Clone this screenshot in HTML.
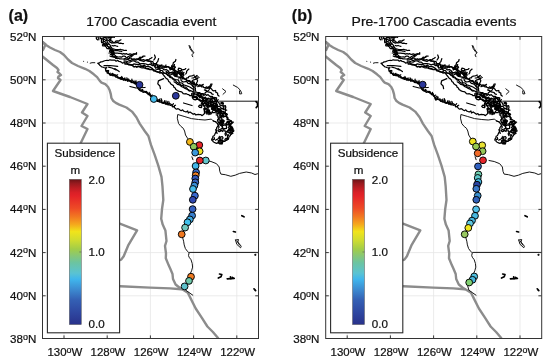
<!DOCTYPE html>
<html><head><meta charset="utf-8"><style>
html,body{margin:0;padding:0;background:#fff;width:550px;height:364px;overflow:hidden}
svg{display:block}
text{font-family:"Liberation Sans",Arial,sans-serif;fill:#111;stroke:#111;stroke-width:0.22}
.t11{font-size:11px}
.t13{font-size:13px}
.lbl{font-size:16px;font-weight:bold}
.grid{stroke:#e6e6e6;stroke-width:0.8}
.plate{fill:none;stroke:#8c8c8c;stroke-width:2.4;stroke-linejoin:round;stroke-linecap:round}
.coast{fill:none;stroke:#000;stroke-width:1.25;stroke-linejoin:round;stroke-linecap:round}
.coast2{fill:none;stroke:#151515;stroke-width:1.0;stroke-linejoin:round;stroke-linecap:round}
.frame{fill:none;stroke:#333;stroke-width:1.0}
.tick{stroke:#3a3a3a;stroke-width:1}
.dot{stroke:#000;stroke-width:0.95}
.legend{fill:#fff;stroke:#2a2a2a;stroke-width:1.1}
</style></head><body>
<svg width="550" height="364" viewBox="0 0 550 364">
<defs><clipPath id="mapclip"><rect x="42.5" y="36.5" width="216" height="302"/></clipPath><linearGradient id="cb" x1="0" y1="0" x2="0" y2="1"><stop offset="0" stop-color="#6a1014"/><stop offset="0.012" stop-color="#7e161a"/><stop offset="0.03" stop-color="#9a1a1f"/><stop offset="0.06" stop-color="#bc1d23"/><stop offset="0.09" stop-color="#d82027"/><stop offset="0.115" stop-color="#e42328"/><stop offset="0.2" stop-color="#ee4b26"/><stop offset="0.26" stop-color="#f27a21"/><stop offset="0.31" stop-color="#f5a81d"/><stop offset="0.36" stop-color="#f1e41a"/><stop offset="0.42" stop-color="#cfdc30"/><stop offset="0.48" stop-color="#a2cd48"/><stop offset="0.53" stop-color="#85c779"/><stop offset="0.573" stop-color="#6cc4a0"/><stop offset="0.646" stop-color="#5ac3d2"/><stop offset="0.687" stop-color="#40b6ec"/><stop offset="0.76" stop-color="#3c8ad0"/><stop offset="0.83" stop-color="#3460b4"/><stop offset="0.92" stop-color="#2e46a0"/><stop offset="1.0" stop-color="#29318a"/></linearGradient></defs>
<g transform="translate(0.0,0)">
<line x1="64.0" y1="36.6" x2="64.0" y2="338.6" class="grid"/>
<line x1="107.2" y1="36.6" x2="107.2" y2="338.6" class="grid"/>
<line x1="150.4" y1="36.6" x2="150.4" y2="338.6" class="grid"/>
<line x1="193.6" y1="36.6" x2="193.6" y2="338.6" class="grid"/>
<line x1="236.8" y1="36.6" x2="236.8" y2="338.6" class="grid"/>
<line x1="42.4" y1="79.8" x2="258.4" y2="79.8" class="grid"/>
<line x1="42.4" y1="123.0" x2="258.4" y2="123.0" class="grid"/>
<line x1="42.4" y1="166.2" x2="258.4" y2="166.2" class="grid"/>
<line x1="42.4" y1="209.4" x2="258.4" y2="209.4" class="grid"/>
<line x1="42.4" y1="252.6" x2="258.4" y2="252.6" class="grid"/>
<line x1="42.4" y1="295.8" x2="258.4" y2="295.8" class="grid"/>
<g clip-path="url(#mapclip)">
<polyline points="42.5,42.0 46.0,45.0 50.0,47.5 55.0,50.0 60.0,52.0 64.0,55.0 68.0,59.5 72.0,63.0 78.0,66.0 85.0,68.8 89.4,71.0 93.8,74.3 97.1,77.1 99.8,80.9 101.5,82.6 105.3,84.2 108.1,87.0 109.7,90.3 110.8,94.1 111.4,98.0 113.0,100.7 115.8,102.9 119.3,104.6 126.4,107.5 132.0,111.6 136.4,117.3 139.7,123.6 144.7,131.0 148.4,136.0 150.9,144.7 154.6,154.6 158.3,165.7 161.5,176.8 162.5,186.7 163.3,200.0 162.0,209.0 161.2,218.8 162.7,224.6 165.4,230.4 166.5,241.0 165.0,245.8 166.0,253.5 165.8,258.2 168.6,265.1 170.3,268.8 172.5,274.0 173.0,279.0 175.6,284.5 179.6,287.8 184.6,290.8 187.8,292.8 191.0,299.1 195.7,308.5 201.9,317.9 207.4,326.5 212.9,332.0 217.6,337.5 218.4,338.6" class="plate"/>
<polyline points="42.5,42.0 45.5,44.5 43.0,50.0" class="plate"/>
<polyline points="42.5,56.5 48.0,61.0 53.0,65.0 57.0,68.0 58.5,70.0 57.5,72.0 59.5,73.5 61.0,75.0 58.5,76.5 58.0,78.0 60.5,80.0 53.0,91.0 60.0,93.5 70.0,97.0 80.0,101.0 87.5,104.0 82.0,112.5 87.5,116.0 81.5,126.0 87.5,129.0 80.5,143.5" class="plate"/>
<polyline points="119.8,223.7 137.1,230.4 128.5,244.8 123.7,256.3 121.2,259.6 119.8,260.0" class="plate"/>
<polyline points="120.2,286.2 150.0,287.6 170.0,288.4 181.3,289.3" class="plate"/>
<polyline points="98.0,63.3 98.9,64.2 99.7,65.2 100.8,66.1 101.6,66.8 102.8,67.0 103.4,67.5 105.5,67.8 105.7,69.4 105.7,70.9 106.9,71.7 107.2,73.1 109.1,73.4 110.1,75.3 111.2,74.9 112.4,75.5 113.5,75.5 115.1,74.6 116.1,75.5 117.1,76.2 117.7,77.8 119.0,78.1 120.6,77.6 121.5,79.1 123.1,78.5 124.0,79.7 125.5,79.3 126.7,79.4 127.5,81.2 129.0,80.4 130.2,80.7 131.0,82.3 132.3,82.6 134.0,82.1 134.5,83.6 136.2,84.2 137.1,85.4 138.4,86.3 137.7,88.1 138.7,89.3 139.6,90.3 140.8,90.8 142.4,90.4 143.5,91.1 144.7,91.3 145.7,91.7 146.8,92.1 147.6,93.0 148.4,94.0 150.2,93.8 150.0,95.6 151.2,96.4 152.0,97.6 152.4,99.5 153.7,99.2 155.0,99.2 156.1,99.8 157.2,100.5 158.8,99.7 159.4,101.7 161.2,100.5 162.0,102.2 163.2,102.8 164.9,101.9 165.6,103.6 167.1,103.4 168.2,104.2 169.7,103.6 171.0,104.2 172.0,105.1 172.4,106.9 174.2,106.4 174.8,107.9 175.7,108.7 176.6,109.2 178.1,108.7 179.1,109.3 180.0,110.0 181.2,110.7 182.6,109.8 183.7,111.2 184.8,111.5 186.0,112.0 187.7,111.0 188.3,113.0 190.0,111.9 191.1,112.7 192.2,113.5 193.2,114.3 194.7,113.6 195.6,114.9 197.0,114.6 198.3,114.4 199.6,114.7 200.9,114.7 202.0,115.5" class="coast"/>
<polyline points="202.0,115.5 203.2,114.7 204.4,113.6 204.5,112.2 204.7,111.0 204.4,109.5 205.2,107.9 204.3,106.7 203.9,105.2 202.9,104.1 202.3,102.5 200.8,101.5 200.2,99.7 198.9,99.1 197.5,98.8 196.3,98.1 195.1,97.3 193.6,97.3 192.5,96.4 191.4,95.6 189.9,95.7 188.8,94.6 187.4,94.3 186.2,93.7 184.7,93.9 183.2,93.7 182.2,92.3 180.8,91.6 179.2,91.3 177.4,90.6 175.8,89.4 175.2,88.0 173.9,87.2 173.4,85.6 172.0,84.7 170.6,83.8 169.9,82.3 168.6,81.4 168.1,79.9 167.1,78.9 165.7,78.0 164.8,76.7 163.8,75.5 162.8,74.1 161.7,72.5 160.0,73.1 158.9,72.4 157.6,71.7 156.2,71.6 155.1,70.9 153.6,71.0 152.7,69.7 151.3,69.7 149.9,69.7 148.4,68.6 146.6,68.6 144.9,68.3 143.7,67.7 142.3,67.9 140.9,67.6 139.7,66.7 138.3,66.7 136.9,67.3 135.7,66.2 134.1,66.9 133.0,66.1 131.9,65.0 130.5,65.0 129.1,64.9 127.8,64.4 126.5,64.0 125.2,63.9 124.2,62.5 122.6,63.2 121.5,62.3 120.3,61.6 118.9,61.5 117.8,60.4 116.1,61.2 114.7,60.1 113.1,60.1 111.6,60.2 109.9,59.8 108.5,60.5 107.0,60.3 105.5,60.5 104.0,61.0 102.5,61.6 100.9,61.9 99.5,62.8 98.0,63.3" class="coast"/>
<polyline points="105.3,68.9 105.6,68.6 106.7,67.5" class="coast"/>
<polyline points="106.5,70.7 107.1,70.6 108.6,70.5" class="coast"/>
<polyline points="107.9,72.4 108.4,71.9 108.6,71.5" class="coast"/>
<polyline points="109.6,74.3 109.6,73.7 110.3,73.1" class="coast"/>
<polyline points="111.2,75.1 111.8,74.4 112.6,73.3" class="coast"/>
<polyline points="112.7,75.5 113.3,74.7 113.5,74.1" class="coast"/>
<polyline points="114.1,76.0 113.8,75.5 114.0,74.4" class="coast"/>
<polyline points="115.4,76.5 116.1,75.6 117.6,74.8" class="coast"/>
<polyline points="117.3,77.5 117.9,76.6 117.7,76.4" class="coast"/>
<polyline points="119.5,78.6 120.2,77.7 120.2,77.4" class="coast"/>
<polyline points="120.6,79.2 120.5,78.2 121.3,78.1" class="coast"/>
<polyline points="121.3,79.4 121.4,78.0 121.8,76.5" class="coast"/>
<polyline points="122.8,79.7 122.7,79.1 122.4,77.5" class="coast"/>
<polyline points="124.1,80.0 124.2,78.8 124.9,78.0" class="coast"/>
<polyline points="127.8,80.9 127.5,79.8 126.9,77.9" class="coast"/>
<polyline points="129.5,81.2 128.9,80.3 128.6,79.0" class="coast"/>
<polyline points="132.0,81.8 131.8,80.9 131.9,79.2" class="coast"/>
<polyline points="134.1,82.9 134.9,82.0 134.8,81.0" class="coast"/>
<polyline points="135.3,83.5 135.6,81.9 136.0,80.9" class="coast"/>
<polyline points="135.9,83.8 136.3,82.6 136.4,82.2" class="coast"/>
<polyline points="137.4,85.4 138.3,85.4 138.6,85.4" class="coast"/>
<polyline points="138.4,87.8 139.1,87.4 140.0,87.6" class="coast"/>
<polyline points="139.4,89.2 140.0,88.2 140.0,87.4" class="coast"/>
<polyline points="141.6,90.4 141.9,89.5 142.7,89.5" class="coast"/>
<polyline points="145.3,92.2 146.4,91.9 146.5,91.4" class="coast"/>
<polyline points="146.5,92.8 146.4,92.3 146.6,91.6" class="coast"/>
<polyline points="149.2,94.1 149.3,92.9 149.2,92.3" class="coast"/>
<polyline points="150.5,95.9 151.1,95.5 152.6,95.1" class="coast"/>
<polyline points="151.9,98.0 153.3,96.8 153.9,96.3" class="coast"/>
<polyline points="153.3,99.1 154.1,97.7 155.0,97.1" class="coast"/>
<polyline points="154.6,99.4 154.6,98.0 154.3,97.3" class="coast"/>
<polyline points="157.2,100.1 156.7,99.3 156.7,98.6" class="coast"/>
<polyline points="159.6,100.8 159.6,100.3 159.6,99.0" class="coast"/>
<polyline points="161.7,101.6 161.9,100.6 161.1,98.7" class="coast"/>
<polyline points="163.9,102.4 164.7,101.0 164.7,100.5" class="coast"/>
<polyline points="165.8,103.1 166.2,102.3 166.0,101.0" class="coast"/>
<polyline points="167.2,103.7 167.6,102.6 167.9,101.3" class="coast"/>
<polyline points="168.5,104.1 169.1,102.8 169.0,101.9" class="coast"/>
<polyline points="171.9,105.7 173.1,104.2 173.5,103.7" class="coast"/>
<polyline points="173.9,106.9 174.6,105.6 175.5,105.2" class="coast"/>
<polyline points="107.1,71.6 108.1,72.4 108.8,73.5 109.9,74.5 111.4,74.0 112.6,74.2 113.6,75.2 114.9,75.4 115.5,76.8 116.6,77.1 117.6,77.4 118.7,77.8 119.6,78.5 120.9,78.1 121.7,78.8 122.9,78.6 123.6,80.2 125.0,78.9 125.6,80.5 126.9,79.4 127.9,80.7 129.1,80.3 130.2,80.6 131.0,81.6 132.6,80.7 133.4,81.2 133.7,83.0 134.9,82.8 135.8,83.2" class="coast"/>
<polyline points="139.0,89.5 140.3,89.7 141.0,90.9 142.1,91.5 143.1,92.4 144.7,91.8 145.6,92.4 146.7,92.7 147.7,93.4 148.3,94.7 150.1,94.4 150.1,95.7 151.1,96.3 151.6,97.3 152.0,98.3 152.3,99.9 153.4,99.8 154.7,99.0 155.6,99.7 156.7,99.8 157.3,101.3 158.3,101.4 159.3,101.8 160.3,102.2 161.4,102.5 162.3,103.2 163.4,103.3 164.8,102.8 165.4,104.2 166.6,103.9 167.4,104.7 168.6,104.8 169.6,104.9 170.6,105.4" class="coast"/>
<polyline points="130.0,86.5 136.0,88.0 145.0,87.5" class="coast"/>
<polyline points="163.6,78.7 158.4,80.8 157.8,83.9 159.9,86.0 160.4,88.6" class="coast"/>
<polyline points="183.5,103.0 192.0,105.5" class="coast"/>
<polyline points="104.0,65.6 110.0,65.5 117.7,66.3" class="coast"/>
<polyline points="114.7,68.6 119.2,71.6" class="coast"/>
<polyline points="108.6,67.1 112.0,68.0 116.0,70.0" class="coast"/>
<polyline points="216.0,122.0 213.2,120.9 211.4,119.1 205.0,120.0 198.6,119.5 191.4,118.6 184.1,116.4 177.7,114.5 177.3,118.2 178.6,123.6 181.0,126.5 183.2,128.2 184.6,131.0 185.5,135.0 187.7,138.5 189.9,141.9" class="coast2"/>
<polyline points="191.9,156.8 192.9,159.7" class="coast2"/>
<polyline points="181.7,234.3 183.6,241.2 184.2,244.9 185.4,248.6 187.3,251.1 189.1,252.9 188.5,255.4 189.1,257.2 191.0,259.7 192.2,263.4 192.6,267.1 191.6,270.8 190.4,273.3 191.0,276.7" class="coast2"/>
<polyline points="184.6,286.4 185.7,290.2 189.0,292.5 192.8,295.2" class="coast2"/>
<polyline points="205.8,160.5 211.0,161.5 216.5,163.7 219.2,167.0 219.8,171.4 220.9,174.1 225.3,174.7 230.8,176.3 235.2,175.2 239.6,173.4 246.2,172.0 251.6,173.0 255.0,174.5 257.5,173.8" class="coast2"/>
<polyline points="189.5,252.4 258.0,252.4" class="coast2"/>
<polyline points="219.5,101.2 258.0,101.2" class="coast2"/>
<polyline points="235.5,240.0 238.5,239.5 237.8,242.0 241.2,246.2 240.6,247.8 236.8,244.3 235.5,240.0" class="coast2"/>
<polyline points="237.0,241.0 239.5,245.0" class="coast2"/>
<polyline points="233.3,85.1 237.7,87.5 240.4,90.2 241.8,93.7 239.7,94.0 239.5,90.9" class="coast2"/>
<polyline points="222.6,88.8 226.0,91.5 223.0,94.3" class="coast2"/>
<polyline points="90.2,63.2 92.0,62.7 94.8,62.7" class="coast2"/>
<polyline points="189.0,45.5 190.0,48.5 191.8,51.2 193.6,53.0 191.8,54.9 192.7,56.7" class="coast2"/>
<polyline points="189.8,45.8 190.8,48.3 192.6,51.0 193.8,52.5" class="coast2"/>
<polyline points="195.0,77.0 197.0,75.8 199.4,77.5 196.0,79.0" class="coast2"/>
<polyline points="124.0,59.2 126.0,59.2 128.0,59.6 129.9,60.7 132.0,59.6 134.0,59.8 136.0,60.2 138.1,59.3 140.0,60.4 142.0,60.9 143.8,61.5 146.3,60.0 148.2,61.2 150.4,61.3 151.7,63.9 153.8,64.4 156.4,63.5 157.6,66.6 159.7,67.2 161.9,66.9 163.9,67.2 166.3,66.5 168.5,66.8 170.0,68.9 172.6,68.7 174.4,70.0 176.4,71.2 178.8,72.1 180.1,74.5 182.1,76.0 183.4,78.5 186.0,79.2 187.8,80.9 190.0,81.9 191.8,83.5 194.0,84.3" class="coast"/>
<polyline points="124.0,60.8 126.0,61.0 127.9,61.8 129.9,62.1 132.1,61.0 134.2,60.9 136.0,62.1 138.1,62.1 139.9,63.8 141.9,63.7 143.9,63.7 146.0,64.0 147.9,64.8 150.3,64.1 152.1,65.6 154.3,65.6 155.7,68.3 158.4,66.7 159.8,69.3 162.2,67.8 163.9,69.9 166.2,69.5 168.1,70.8 169.5,72.9 172.6,72.0 174.6,73.2 175.3,76.3 178.0,76.8 180.6,77.3 181.2,80.7 183.3,82.0 186.6,81.3 188.1,83.4 190.5,83.9 192.3,85.4 194.0,87.0" class="coast"/>
<polyline points="124.0,62.2 126.2,62.1 127.9,63.8 129.9,64.3 131.8,65.2 134.1,63.9 136.1,64.3 138.1,64.3 140.1,64.8 141.9,66.4 144.2,65.0 146.0,66.6 148.2,66.3 150.2,67.1 152.1,68.2 153.7,69.9 155.9,70.0 158.4,69.0 160.2,70.3 162.2,70.5 163.7,72.9 165.5,73.2 167.5,74.6 169.5,76.1 171.7,77.2 173.4,78.9 175.5,79.7 178.4,79.9 179.5,82.7 182.0,83.0 183.6,84.8 185.9,85.5 188.1,86.3 190.2,87.3 192.1,88.5 194.0,89.7" class="coast"/>
<polyline points="117.0,58.5 118.4,58.3 119.7,58.9 121.0,58.8 122.7,59.0 124.4,58.9 126.0,57.8 127.3,57.7 128.7,59.0 130.0,58.1 131.4,58.2 132.6,59.5 134.0,58.7 135.3,59.4 136.7,58.9 138.0,59.2 139.4,58.6 140.6,59.5 141.9,60.1 143.3,59.7 144.6,60.2 145.9,60.3 147.5,59.7 148.6,61.1 149.9,61.1 151.4,61.3 152.8,61.6 153.5,63.4 155.0,63.5 156.1,64.2 157.3,64.8 158.7,65.0 159.8,65.6 161.3,65.2 162.4,66.2 163.8,66.0 164.8,67.2 166.1,67.5 167.7,66.6 168.9,67.1 170.2,67.6 170.9,69.4 172.6,69.4 173.6,70.4 175.2,70.7 176.2,71.9 177.6,72.6 178.9,73.4 179.9,74.6 181.2,75.6 182.1,77.0 183.6,77.7 184.7,79.1 185.9,79.7 186.9,80.5 188.4,80.7 189.9,80.7 190.5,82.3 191.7,83.2 193.1,83.7 194.6,83.8 195.9,84.6 197.5,84.4 198.5,85.9 200.0,86.1 201.4,85.9 202.7,85.9 203.7,87.4 205.0,87.9 206.6,86.8 207.6,88.2 209.1,87.9 210.4,88.1 211.5,88.9 212.4,90.2 213.5,90.9 215.6,90.5 215.9,92.4 217.6,93.0 217.7,95.0 219.0,96.0" class="coast"/>
<polyline points="125.0,64.0 126.4,63.9 127.7,64.0 128.9,64.7 130.3,64.6 131.6,64.8 132.7,65.6 133.9,66.7 135.3,66.7 136.7,66.8 138.2,66.1 139.5,66.8 140.9,66.6 142.3,66.6 143.7,66.7 145.1,67.1 146.1,68.5 147.3,68.8 148.6,69.1 149.8,69.5 151.7,69.0 153.1,69.7 154.4,70.7 155.9,71.4 157.1,71.9 158.3,72.3 159.9,71.5 161.0,72.7 162.5,73.1 164.1,73.2 165.7,73.5" class="coast"/>
<polyline points="96.3,37.3 96.4,38.8 97.5,39.8" class="coast"/>
<polyline points="98.0,37.3 98.8,38.4 98.8,39.8" class="coast"/>
<polyline points="100.0,37.3 100.6,38.7 102.3,38.7 103.5,39.6 103.3,41.4 105.0,41.7 105.9,42.7 106.2,44.1 107.3,44.9 107.6,46.3 109.3,47.0 109.4,48.8 111.0,49.6 111.4,51.0 111.4,52.7 112.3,54.1 112.7,55.6 113.8,56.7 115.4,56.6 115.7,58.3 117.0,58.5" class="coast"/>
<polyline points="103.0,37.3 103.6,38.6 104.6,39.6 105.5,40.3 107.2,40.7 107.2,42.1 108.1,42.9 108.6,44.0 109.8,44.7 110.4,45.8 110.7,47.0 111.7,47.8 112.1,49.0 113.1,50.3 113.5,51.7 113.5,53.6 114.6,54.9 115.7,56.0 117.0,57.0" class="coast"/>
<polyline points="104.0,37.3 105.2,37.6 106.4,37.9 107.6,37.0 108.8,38.2 110.0,37.1 111.5,37.7 112.9,36.8 114.4,37.3" class="coast"/>
<polyline points="101.0,38.0 101.7,39.4 101.5,41.3 102.4,42.4 104.0,43.1 104.0,44.7 105.1,46.1 106.2,46.9 107.0,48.6 108.5,48.5" class="coast"/>
<polyline points="106.0,38.0 106.7,39.5 108.2,40.2 109.2,40.9 109.9,42.1 112.0,43.0" class="coast"/>
<polyline points="109.0,43.9 107.6,44.2 106.6,45.1 105.6,46.0" class="coast"/>
<polyline points="110.8,39.8 110.9,40.4 110.1,40.3 109.6,40.2 109.5,39.8 109.5,39.3 110.1,39.0 110.8,39.2 110.8,39.8" class="coast"/>
<polyline points="113.5,50.9 112.3,51.5 110.9,51.2" class="coast"/>
<polyline points="114.3,52.9 113.4,53.5 113.4,54.7 112.1,55.1 112.0,56.2" class="coast"/>
<polyline points="113.0,51.5 113.3,52.9 111.6,52.6 110.7,52.3 109.5,51.5 110.1,50.4 111.6,50.0 112.6,50.8 113.0,51.5" class="coast"/>
<polyline points="107.1,43.0 106.2,43.7 105.1,44.0 103.9,43.6 102.9,43.9" class="coast"/>
<polyline points="101.8,39.1 101.5,40.2 101.5,41.4 101.6,42.6" class="coast"/>
<polyline points="108.8,37.1 110.0,37.4 110.8,38.4" class="coast"/>
<polyline points="110.7,46.7 109.8,47.1 108.7,47.3" class="coast"/>
<polyline points="105.4,44.9 104.4,45.8 102.9,46.0 102.4,44.9 103.3,44.3 104.5,44.0 105.4,44.9" class="coast"/>
<polyline points="113.7,53.2 112.7,53.7 111.7,54.6 110.4,54.5" class="coast"/>
<polyline points="112.1,56.5 113.1,56.9 114.2,56.3 115.1,57.1 116.1,57.1" class="coast"/>
<polyline points="110.7,40.8 112.1,41.1 113.1,42.1" class="coast"/>
<polyline points="103.1,44.8 104.1,45.0 105.2,44.9" class="coast"/>
<polyline points="157.6,65.3 158.1,66.7 158.6,68.1" class="coast"/>
<polyline points="183.9,75.0 183.4,76.1 181.6,76.3 180.7,75.0 181.6,73.8 183.3,74.0 183.9,75.0" class="coast"/>
<polyline points="174.8,67.8 174.1,68.8 174.7,69.9" class="coast"/>
<polyline points="181.9,69.5 180.9,70.8 179.0,70.6 178.1,69.5 178.8,68.1 180.6,68.5 181.9,69.5" class="coast"/>
<polyline points="175.6,72.8 174.4,73.9 172.9,73.4 172.9,72.2 174.3,72.1 175.6,72.8" class="coast"/>
<polyline points="166.0,71.1 166.9,72.2 166.7,73.6" class="coast"/>
<polyline points="180.9,72.5 180.9,73.0 180.2,73.4 179.5,73.0 179.1,72.5 179.6,72.0 180.2,71.9 180.9,71.9 180.9,72.5" class="coast"/>
<polyline points="182.7,76.1 181.5,76.2 180.8,77.4 179.7,77.8 178.5,78.0" class="coast"/>
<polyline points="174.4,71.5 175.2,72.4 174.8,73.9 175.9,74.7 176.3,75.8" class="coast"/>
<polyline points="172.3,74.0 170.8,74.8 169.7,75.5 169.0,74.4 168.4,73.4 169.8,73.0 171.6,72.6 172.3,74.0" class="coast"/>
<polyline points="159.0,66.9 158.8,67.4 158.2,67.4 157.5,67.5 157.2,66.9 157.5,66.4 158.2,66.3 158.7,66.6 159.0,66.9" class="coast"/>
<polyline points="179.7,77.4 180.9,77.1 181.8,77.9 182.6,78.9 183.8,78.6" class="coast"/>
<polyline points="177.0,75.4 176.6,76.0 175.7,76.3 174.8,76.1 174.1,75.4 174.6,74.6 175.7,74.1 176.8,74.5 177.0,75.4" class="coast"/>
<polyline points="178.2,71.0 177.5,72.1 178.0,73.5 176.8,74.5 176.9,75.8" class="coast"/>
<polyline points="183.8,73.9 182.7,74.4 181.9,74.6 180.8,74.3 181.2,73.5 181.9,73.1 182.8,73.2 183.8,73.9" class="coast"/>
<polyline points="174.9,74.1 174.5,74.8 173.4,74.9 172.8,74.1 173.4,73.3 174.7,73.3 174.9,74.1" class="coast"/>
<polyline points="169.7,67.4 170.3,68.4 171.6,68.5 172.5,69.1 173.2,70.1" class="coast"/>
<polyline points="182.6,71.8 181.6,72.5 181.8,73.9 180.8,74.6 180.5,75.7" class="coast"/>
<polyline points="168.5,71.3 168.0,72.3 166.8,72.7" class="coast"/>
<polyline points="175.4,67.2 173.9,68.1 172.0,68.1 172.2,66.4 174.2,65.8 175.4,67.2" class="coast"/>
<polyline points="177.4,72.8 176.3,73.5 176.1,74.9 175.0,75.6" class="coast"/>
<polyline points="159.1,66.8 158.5,67.9 157.7,69.0" class="coast"/>
<polyline points="112.0,43.0 113.3,42.5 114.8,42.4 115.8,41.1 117.2,40.9 118.6,41.1 119.8,40.4 121.0,39.8" class="coast"/>
<polyline points="113.6,43.0 115.1,42.8 116.5,42.6 118.0,42.5 119.3,43.4 120.7,43.2 122.1,43.5 123.5,43.5" class="coast"/>
<polyline points="112.0,45.5 113.4,45.9 114.9,45.5 116.3,46.0 117.7,46.4" class="coast"/>
<polyline points="108.7,48.8 110.2,48.5 111.6,49.3 112.9,48.8 114.2,49.2 115.4,49.5 116.7,49.7 118.0,49.5 119.2,49.6 120.5,49.3 121.6,49.8 122.8,49.9 124.0,50.5 125.2,50.3 126.4,50.4" class="coast"/>
<polyline points="110.0,50.5 111.3,50.5 112.5,50.7 113.7,51.1 115.0,50.5 116.4,50.7 117.8,50.7 119.2,51.0 120.6,51.0 121.9,51.7" class="coast"/>
<polyline points="109.0,53.0 110.7,52.9 112.4,53.2 113.7,52.9 114.9,53.2 116.2,53.0 117.5,53.0 118.7,53.4 120.0,53.3 121.2,53.6 122.5,54.1 123.8,53.5 125.0,54.1 126.3,53.6 127.5,54.3 128.8,54.3 130.0,53.8 131.3,54.4 132.5,54.3 133.8,53.7 135.0,54.0 136.5,54.1 136.5,52.5" class="coast"/>
<polyline points="110.0,56.0 111.3,56.7 112.9,56.6 114.3,57.1 115.7,57.8 117.1,56.9 118.6,57.0 120.0,56.9 121.4,57.2 122.8,56.2 124.2,56.1 125.6,56.5" class="coast"/>
<polyline points="127.0,57.5 128.4,56.5 130.0,55.7 131.2,55.3 132.4,54.8 133.7,54.6 134.9,54.0 136.2,53.7" class="coast"/>
<polyline points="138.0,59.0 139.0,58.3 139.9,57.1 141.5,57.5 143.0,57.0" class="coast"/>
<polyline points="155.0,67.0 155.4,65.3 156.4,64.0 156.6,62.6 157.7,61.6 158.1,60.1 158.6,58.7" class="coast"/>
<polyline points="159.0,67.5 160.0,66.7 160.9,65.7 162.0,65.0" class="coast"/>
<polyline points="170.0,70.0 170.4,68.6 171.3,67.3 171.7,65.8 173.0,64.6 173.3,62.8 174.3,62.0 175.4,61.2 175.9,59.5" class="coast"/>
<polyline points="172.4,67.4 173.8,66.2 174.5,64.5" class="coast"/>
<polyline points="178.5,71.0 179.7,70.8 180.9,70.7 182.0,70.0 183.3,69.7 184.7,69.5 185.8,68.6" class="coast"/>
<polyline points="181.0,75.0 182.3,74.5 182.8,73.1 184.0,72.5" class="coast"/>
<polyline points="186.0,79.0 186.8,77.9 188.3,77.9 188.8,76.5 190.1,76.2 191.4,76.0 192.7,75.6 194.0,75.0" class="coast"/>
<polyline points="194.6,76.0 195.5,77.6 197.0,78.4 195.8,79.1 194.5,79.7 193.1,80.1 191.7,81.4 193.4,82.1 194.6,83.4" class="coast"/>
<polyline points="199.6,84.7 201.1,85.6 202.0,87.1" class="coast"/>
<polyline points="196.0,86.0 196.4,84.7 196.4,83.3 197.1,82.0 197.6,80.7 196.9,79.3 197.5,78.0" class="coast"/>
<polyline points="194.0,91.0 193.5,89.8 193.9,88.4 193.7,87.2 192.5,86.0 193.2,84.7 193.0,83.5 192.8,82.2 192.5,81.0" class="coast"/>
<polyline points="195.6,91.0 195.3,89.8 195.4,88.5 194.9,87.3 195.3,85.9 194.6,84.7 194.2,83.4 194.0,82.0" class="coast"/>
<polyline points="197.8,86.6 198.9,86.0 200.0,85.6 201.7,85.2 203.3,84.4" class="coast"/>
<polyline points="205.5,88.8 206.9,88.5 207.9,87.2 209.6,87.5 211.0,86.6" class="coast"/>
<polyline points="204.4,89.9 205.6,90.4 206.9,90.8 207.8,91.9 209.3,92.2 210.8,92.5 211.8,93.8 213.2,94.3" class="coast"/>
<polyline points="211.0,96.5 212.3,97.5 213.4,98.6 214.6,99.3 215.2,100.5 216.5,101.0" class="coast"/>
<polyline points="205.0,93.0 205.9,92.2 206.9,91.3 208.2,91.0 208.9,90.0 209.6,88.8 210.2,87.6 210.7,86.3 211.5,85.3 212.0,84.0" class="coast"/>
<polyline points="147.0,61.0 147.8,60.0 149.0,59.6 149.8,58.8 151.0,58.2 152.0,57.5" class="coast"/>
<polyline points="164.0,68.0 164.3,66.8 165.6,66.1 166.0,65.0" class="coast"/>
<polyline points="153.8,60.0 154.6,58.9 155.4,57.4 155.0,56.2 154.5,55.0" class="coast"/>
<polyline points="185.7,74.0 186.5,72.8 186.7,71.2 187.7,70.1 188.9,69.1" class="coast"/>
<polyline points="192.0,78.0 193.6,77.9 194.9,76.8 196.0,76.2 197.0,75.5" class="coast"/>
<polyline points="140.0,59.5 140.9,58.1 142.0,57.1 143.3,56.0 145.0,56.0" class="coast"/>
<polyline points="129.0,58.5 129.7,57.2 131.0,56.6 133.0,55.5" class="coast"/>
<polyline points="208.0,88.0 208.8,86.8 210.0,86.0 211.0,84.0" class="coast"/>
<polyline points="165.7,73.5 166.9,74.2 167.7,75.3 169.0,75.8 169.6,77.1 170.9,77.7 172.3,78.3 173.3,79.7 174.6,80.3 175.8,81.1 176.9,82.2 178.2,83.0 179.3,83.8 180.5,84.3 181.4,85.5 183.1,85.3 183.8,86.8 185.5,87.0 186.6,88.0 187.7,89.2 188.9,90.1 190.4,90.5 191.7,91.1 193.1,91.6 194.5,92.2 196.2,92.0 197.7,92.6 199.3,92.6 200.8,93.6 202.3,93.6 203.7,93.9 205.2,94.2 206.4,95.3 208.1,94.7 209.2,95.9 210.6,96.6 212.3,96.4 213.4,97.7 215.0,98.0" class="coast"/>
<polyline points="174.0,81.8 175.2,82.5 176.4,83.3 177.4,84.3 178.9,84.6 180.1,85.3 181.2,86.4 182.5,87.0 183.8,87.6 185.0,88.4 186.3,89.0 187.7,89.6 188.7,90.6 190.0,91.2" class="coast"/>
<polyline points="209.2,106.3 208.9,107.2 207.6,107.1 206.7,106.7 206.9,105.9 207.7,105.5 208.7,105.5 209.2,106.3" class="coast"/>
<polyline points="214.6,97.5 213.8,98.3 212.4,98.5 211.9,99.6" class="coast"/>
<polyline points="206.2,99.1 206.2,100.3 206.5,101.6" class="coast"/>
<polyline points="206.7,99.3 205.2,100.6 202.5,100.5 202.9,98.3 205.5,97.1 206.7,99.3" class="coast"/>
<polyline points="221.5,110.9 220.4,111.1 220.0,112.4 218.8,112.3" class="coast"/>
<polyline points="216.7,106.7 215.9,107.6 214.4,107.3 214.6,106.2 215.9,105.7 216.7,106.7" class="coast"/>
<polyline points="215.8,103.2 215.8,104.3 215.6,105.3 214.4,105.9 214.1,106.9" class="coast"/>
<polyline points="214.6,110.3 215.7,110.5 216.9,110.7 217.6,111.8 218.7,112.0 219.6,112.7" class="coast"/>
<polyline points="216.4,99.1 216.6,100.2 215.2,99.9 214.4,99.4 214.5,98.7 215.0,97.6 216.6,97.9 216.4,99.1" class="coast"/>
<polyline points="216.4,111.4 215.1,112.1 214.2,112.7 212.5,112.7 212.3,111.4 213.1,110.6 214.2,109.8 215.4,110.5 216.4,111.4" class="coast"/>
<polyline points="194.1,94.1 193.4,94.6 192.6,95.0 191.9,94.7 191.5,94.1 191.8,93.5 192.6,93.0 193.6,93.3 194.1,94.1" class="coast"/>
<polyline points="206.2,104.1 207.3,104.9 207.4,106.2 207.9,107.3 208.2,108.5" class="coast"/>
<polyline points="208.8,103.8 208.5,104.6 207.3,104.9 206.5,104.2 206.7,103.5 207.4,103.1 208.8,102.6 208.8,103.8" class="coast"/>
<polyline points="218.2,99.7 217.4,100.5 217.1,101.8 216.1,102.4" class="coast"/>
<polyline points="223.4,103.4 223.0,104.6 223.0,105.8 224.1,106.9 223.4,108.1 223.6,109.3" class="coast"/>
<polyline points="212.4,104.6 213.2,105.4 213.6,106.4 214.5,107.1 214.1,108.5 215.0,109.2" class="coast"/>
<polyline points="215.1,101.0 214.0,101.6 214.2,102.8 213.8,103.8 213.2,104.6 212.7,105.5" class="coast"/>
<polyline points="216.4,101.7 216.2,102.9 216.9,103.9 217.4,105.0 216.5,106.3 217.3,107.3" class="coast"/>
<polyline points="221.4,108.4 222.6,108.3 223.5,109.1 224.7,109.0 225.5,110.1 226.7,110.2" class="coast"/>
<polyline points="212.8,102.1 212.0,103.0 210.4,102.7 210.6,101.5 211.9,101.5 212.8,102.1" class="coast"/>
<polyline points="196.9,97.6 197.3,99.2 195.3,99.9 193.4,99.1 192.3,97.6 193.9,96.6 195.3,96.5 196.6,96.6 196.9,97.6" class="coast"/>
<polyline points="200.9,94.5 199.8,95.8 197.8,95.8 197.5,94.5 197.8,93.1 199.5,93.6 200.9,94.5" class="coast"/>
<polyline points="211.2,104.0 211.6,105.1 211.5,106.5 212.2,107.6 213.1,108.5" class="coast"/>
<polyline points="204.4,95.1 202.7,96.2 201.0,95.8 201.1,94.4 202.7,93.9 204.4,95.1" class="coast"/>
<polyline points="211.0,100.0 210.4,101.4 208.6,101.9 207.4,100.9 205.8,100.0 206.9,98.7 208.6,98.2 209.9,99.0 211.0,100.0" class="coast"/>
<polyline points="207.5,107.9 206.6,108.4 205.6,108.9 204.4,108.4 203.5,109.0" class="coast"/>
<polyline points="223.3,103.1 222.2,103.9 220.9,103.6 221.0,102.6 222.2,102.4 223.3,103.1" class="coast"/>
<polyline points="206.2,100.2 205.7,101.1 204.8,101.7 204.3,102.7 203.6,103.5 202.6,103.9" class="coast"/>
<polyline points="221.1,110.1 220.4,111.1 219.0,111.0 218.5,110.1 218.9,109.1 220.4,109.2 221.1,110.1" class="coast"/>
<polyline points="219.3,112.0 218.5,113.2 216.0,113.1 216.2,111.0 218.6,110.4 219.3,112.0" class="coast"/>
<polyline points="202.3,101.1 202.4,102.3 201.4,103.4 201.2,104.6 201.2,105.7 201.3,107.0" class="coast"/>
<polyline points="193.6,93.0 194.2,94.1 192.9,95.4 194.3,96.4 193.9,97.6" class="coast"/>
<polyline points="196.2,94.9 197.3,94.7 198.1,96.0 199.3,95.6 200.3,95.7" class="coast"/>
<polyline points="201.8,106.4 201.5,107.7 199.7,107.5 198.5,106.4 199.6,105.1 201.2,105.5 201.8,106.4" class="coast"/>
<polyline points="194.0,93.0 194.9,94.2 196.5,93.9 197.6,94.7 199.1,94.9 199.6,96.7 201.4,96.1 202.3,97.4 203.5,97.9 204.6,98.7 206.1,98.9 207.3,99.4 208.5,100.1 209.9,100.2 210.9,101.1 212.2,101.7 212.8,103.0 214.0,103.3 215.4,103.5 216.4,104.0 217.1,105.1 217.6,106.7 219.6,106.1 220.5,107.4 221.5,108.6 223.0,109.0" class="coast"/>
<polyline points="194.0,96.0 195.2,96.4 195.9,97.5 197.4,97.3 197.6,99.3 198.7,99.8 199.6,100.7 201.2,100.4 202.3,100.9 203.4,101.4 204.3,102.3 205.4,102.7 205.9,104.3 207.3,104.4 208.2,105.7 209.4,106.2 210.9,106.2 212.2,106.5 213.3,107.4 214.7,107.5 215.5,109.0 217.0,109.0 218.3,109.5 219.1,111.2 220.7,111.2 222.0,112.0" class="coast"/>
<polyline points="197.0,95.0 198.4,95.1 198.9,96.5 199.6,97.7 201.1,97.5 202.0,98.4 203.1,98.8 203.8,100.0 204.8,100.6 205.9,101.1 206.6,102.3 207.8,102.6 209.1,102.8 210.1,103.5 210.9,104.5 211.8,105.3 213.2,105.3 213.7,106.7 215.0,106.9 215.8,108.0 217.4,107.8 218.2,108.8 219.4,109.0 220.1,110.2 221.0,111.0" class="coast"/>
<polyline points="210.3,98.0 211.4,98.6 212.0,99.8 212.8,100.9 214.0,101.7 215.6,101.1 216.9,101.7 218.3,101.9 219.0,102.9 219.5,104.1 220.6,105.3 221.9,105.7 223.2,106.1 225.4,105.6 225.8,107.1 225.5,108.3 225.4,109.9 225.3,111.0 225.0,112.6 225.0,114.1 226.5,115.1 226.8,116.4 227.5,117.6 227.0,119.7 228.7,119.4 229.6,120.1 230.8,120.5 232.0,122.0 231.4,123.4 230.7,124.1 230.4,125.7 231.2,126.9 231.6,128.2 231.9,129.7 233.0,131.1 231.7,132.1 231.7,133.8 230.7,134.6 230.2,135.7 229.1,136.4 228.8,137.6 228.4,139.1 227.2,139.5 226.0,140.2 224.9,141.3 223.4,141.2 222.2,141.8 221.0,142.9 219.6,143.0 218.3,142.7 216.7,143.3 215.4,142.9 214.1,142.2 212.9,141.5 212.6,139.9 214.5,139.1 214.2,137.6" class="coast"/>
<polyline points="213.2,120.9 214.4,121.3 215.7,121.6 216.4,122.7 217.5,123.4 217.7,124.2 218.3,125.7 217.5,126.7 216.7,127.7 216.6,128.9 215.7,129.8 216.3,131.3 215.8,132.4 215.2,133.5 214.7,134.6 214.1,135.7 212.9,136.3 212.8,137.7 211.9,138.9 211.6,140.2" class="coast"/>
<polyline points="229.1,129.2 229.0,130.4 227.8,130.9 227.4,131.9" class="coast"/>
<polyline points="223.0,137.8 222.5,139.1 220.5,139.2 219.6,137.8 220.9,136.9 222.4,136.7 223.0,137.8" class="coast"/>
<polyline points="223.8,120.5 223.8,121.7 223.2,122.7 223.0,123.8 222.0,124.5 221.2,125.3" class="coast"/>
<polyline points="216.2,114.8 217.4,115.2 217.8,116.3 218.1,117.5 218.5,118.6 219.8,119.0" class="coast"/>
<polyline points="219.7,136.4 220.0,137.6 219.5,138.9 220.4,139.9 220.6,141.1" class="coast"/>
<polyline points="221.1,130.8 220.0,131.4 219.2,131.7 218.5,131.3 218.0,130.8 218.2,130.0 219.2,129.6 220.2,129.9 221.1,130.8" class="coast"/>
<polyline points="219.1,111.9 220.1,112.8 220.3,114.1 220.9,115.2" class="coast"/>
<polyline points="222.7,142.3 222.1,144.0 219.6,143.9 218.1,142.3 219.2,140.2 222.1,140.5 222.7,142.3" class="coast"/>
<polyline points="230.4,125.6 230.7,126.5 231.1,127.5 230.3,128.7 231.1,129.6" class="coast"/>
<polyline points="224.8,123.9 226.1,123.9 227.2,124.7" class="coast"/>
<polyline points="231.5,129.2 230.2,128.9 229.5,129.9 228.5,130.2 227.8,131.2 226.7,131.4" class="coast"/>
<polyline points="216.7,130.2 216.4,131.4 216.6,132.4 217.1,133.4" class="coast"/>
<polyline points="224.3,116.2 223.3,117.0 222.0,115.9 221.1,117.0 219.9,117.0 218.8,116.8" class="coast"/>
<polyline points="223.3,129.7 222.8,131.5 221.1,130.3 220.8,129.0 222.7,128.2 223.3,129.7" class="coast"/>
<polyline points="231.7,126.2 232.2,127.2 232.5,128.3 232.7,129.4 233.8,130.2 233.6,131.5" class="coast"/>
<polyline points="224.1,121.0 223.7,121.7 222.8,121.7 221.6,121.9 221.7,121.0 221.5,120.1 222.8,119.9 223.7,120.3 224.1,121.0" class="coast"/>
<polyline points="223.3,111.7 224.1,112.3 225.3,112.4 225.7,113.6 226.9,113.7 227.4,114.7" class="coast"/>
<polyline points="218.1,140.7 218.9,141.6 220.1,141.8 220.2,143.4 221.5,143.7" class="coast"/>
<polyline points="218.9,114.8 219.9,115.4 220.2,116.5 220.5,117.6 221.6,118.1 222.0,119.2" class="coast"/>
<polyline points="233.4,122.1 232.4,122.9 231.2,123.3 230.4,124.3 229.3,124.9" class="coast"/>
<polyline points="222.0,111.7 221.1,112.2 219.9,112.1 219.2,113.0 218.1,113.0 217.5,114.1" class="coast"/>
<polyline points="229.6,122.2 228.7,123.0 227.1,122.9 227.1,121.5 228.8,121.1 229.6,122.2" class="coast"/>
<polyline points="231.0,131.5 230.4,132.8 228.7,132.7 227.6,132.0 227.9,131.1 228.6,130.0 230.2,130.3 231.0,131.5" class="coast"/>
<polyline points="228.0,139.3 227.1,140.0 226.1,140.4 224.8,139.9 225.2,138.9 226.1,138.3 227.6,138.1 228.0,139.3" class="coast"/>
<polyline points="226.5,126.9 226.4,128.5 224.3,128.7 222.4,127.8 222.3,126.0 224.2,124.9 226.3,125.5 226.5,126.9" class="coast"/>
<polyline points="225.8,132.9 226.4,133.9 227.1,134.9 228.3,135.3" class="coast"/>
<polyline points="231.3,123.2 230.5,124.0 229.8,124.8 229.8,126.0 229.0,126.8 228.2,127.6" class="coast"/>
<polyline points="221.6,116.1 221.1,117.0 220.2,117.6 218.9,118.0 218.4,118.9 218.1,120.0" class="coast"/>
<polyline points="232.9,133.2 231.9,133.8 231.0,134.2 230.2,133.8 229.7,133.2 229.7,132.1 231.0,132.0 232.1,132.4 232.9,133.2" class="coast"/>
<polyline points="221.0,123.7 221.0,125.0 221.8,125.9 222.4,126.8" class="coast"/>
<polyline points="224.1,112.7 223.7,114.0 221.9,113.7 220.6,112.7 221.6,111.3 223.7,111.4 224.1,112.7" class="coast"/>
<polyline points="222.8,124.7 222.2,125.4 220.9,125.6 219.9,124.7 220.7,123.5 222.2,123.9 222.8,124.7" class="coast"/>
<polyline points="233.0,129.0 232.4,130.0 230.9,130.8 230.2,129.5 229.2,128.2 231.1,127.7 232.7,127.8 233.0,129.0" class="coast"/>
<polyline points="217.7,119.6 217.5,120.9 218.3,121.9 218.5,123.0" class="coast"/>
<polyline points="223.1,121.5 221.8,122.8 220.1,122.1 219.9,120.7 221.9,119.8 223.1,121.5" class="coast"/>
<polyline points="223.0,115.3 224.0,116.1 225.1,116.5 226.4,116.7 227.1,117.8 228.3,118.1" class="coast"/>
<polyline points="226.0,115.2 225.5,116.3 224.1,116.6 221.7,117.0 222.4,115.2 221.9,113.5 224.1,113.5 226.3,113.5 226.0,115.2" class="coast"/>
<polyline points="219.2,140.6 220.3,140.3 221.2,141.2 222.4,140.4 223.3,141.1 224.3,141.4" class="coast"/>
<polyline points="230.7,129.9 230.4,130.7 229.4,131.0 228.7,130.4 228.3,129.9 228.6,129.3 229.4,128.4 230.1,129.3 230.7,129.9" class="coast"/>
<polyline points="222.3,120.6 221.0,120.7 220.4,122.3 219.0,122.4" class="coast"/>
<polyline points="232.2,122.6 231.4,124.0 229.2,124.1 227.8,122.6 229.4,121.4 231.3,121.2 232.2,122.6" class="coast"/>
<polyline points="219.1,137.0 218.6,138.2 217.8,139.1 216.6,139.5 215.5,140.2" class="coast"/>
<polyline points="219.6,123.3 219.0,124.4 218.4,125.6 219.1,127.0 218.5,128.2" class="coast"/>
<polyline points="219.6,119.8 220.4,120.5 221.0,121.5 222.1,121.9 222.7,122.8 223.3,123.6" class="coast"/>
<polyline points="228.8,124.4 229.2,125.7 230.5,126.3 231.1,127.5" class="coast"/>
<polyline points="228.7,134.8 227.7,135.7 227.5,136.9 227.7,138.2 227.2,139.4" class="coast"/>
<polyline points="225.8,132.6 225.0,133.6 225.2,134.6 225.8,135.6" class="coast"/>
<polyline points="230.3,123.7 228.5,124.7 225.9,124.9 226.5,122.8 228.9,121.7 230.3,123.7" class="coast"/>
<polyline points="223.6,129.9 224.9,130.0 225.1,131.7 226.4,131.9" class="coast"/>
<polyline points="223.0,114.2 222.9,115.2 221.7,116.2 220.6,115.1 219.9,114.2 219.9,112.9 221.7,113.2 223.5,112.8 223.0,114.2" class="coast"/>
<polyline points="209.4,111.1 209.7,112.4 207.9,112.7 207.0,111.6 206.8,110.6 207.9,109.7 209.5,110.0 209.4,111.1" class="coast"/>
<polyline points="209.0,111.0 207.9,111.1 207.2,112.3 206.2,112.6 205.0,112.9" class="coast"/>
<polyline points="209.5,111.4 208.8,112.0 207.9,112.1 207.4,111.7 207.4,111.1 207.9,110.4 209.1,110.5 209.5,111.4" class="coast"/>
<polyline points="217.7,108.2 217.7,109.2 218.5,110.0 218.9,110.9" class="coast"/>
<polyline points="207.8,109.9 206.6,111.5 204.1,111.0 204.7,109.2 206.4,108.9 207.8,109.9" class="coast"/>
<polyline points="220.3,109.1 219.2,109.1 218.1,108.6 217.0,109.2" class="coast"/>
<polyline points="216.2,104.3 216.4,105.4 215.9,106.4 215.7,107.5 215.5,108.5" class="coast"/>
<polyline points="215.5,106.7 215.9,108.0 215.3,109.2 215.2,110.5" class="coast"/>
<polyline points="209.8,112.9 208.7,113.8 206.6,113.9 207.2,112.3 208.9,111.6 209.8,112.9" class="coast"/>
<polyline points="217.1,105.1 215.7,105.3 214.3,105.7" class="coast"/>
<polyline points="214.2,103.7 213.8,104.7 212.5,104.9 211.1,104.8 210.9,103.7 210.9,102.5 212.5,102.3 213.4,103.1 214.2,103.7" class="coast"/>
<polyline points="211.5,113.2 210.8,114.2 209.5,113.7 209.6,112.8 210.8,112.2 211.5,113.2" class="coast"/>
<polyline points="213.9,108.8 213.3,109.2 212.8,109.8 212.2,109.3 211.8,108.8 211.8,108.0 212.8,108.1 213.6,108.2 213.9,108.8" class="coast"/>
<polyline points="211.7,106.0 211.3,106.8 210.2,106.7 209.2,106.0 210.1,105.2 211.3,105.2 211.7,106.0" class="coast"/>
<polyline points="209.4,112.5 209.6,113.7 208.9,114.7" class="coast"/>
<polyline points="210.1,105.4 209.0,105.1 207.9,105.4" class="coast"/>
<polyline points="215.3,108.4 214.3,109.3 213.1,109.3 211.4,109.1 211.9,107.8 213.1,107.3 214.3,107.5 215.3,108.4" class="coast"/>
<polyline points="206.6,105.0 205.3,105.9 204.0,105.9 202.5,105.0 203.6,103.6 205.7,103.6 206.6,105.0" class="coast"/>
<polyline points="241.8,215.7 244.0,216.8" class="coast" style="stroke-width:1.7"/>
<polyline points="233.4,231.5 235.4,232.0" class="coast" style="stroke-width:1.7"/>
<polyline points="254.0,288.8 255.6,290.6" class="coast" style="stroke-width:1.7"/>
<polyline points="256.0,101.6 257.4,103.0 257.6,106.0 256.2,107.6" class="coast" style="stroke-width:1.7"/>
<polyline points="219.5,274.0 221.8,274.5 221.0,276.8 218.3,278.0" class="coast" style="stroke-width:1.7"/>
<polyline points="227.2,278.8 234.2,278.4" class="coast" style="stroke-width:1.7"/>
<polyline points="230.5,276.8 230.8,278.6" class="coast" style="stroke-width:1.7"/>
<polyline points="232.3,277.4 233.0,278.0" class="coast" style="stroke-width:1.7"/>
<circle cx="83.6" cy="61.3" r="0.55" fill="#111"/>
<circle cx="87.4" cy="62.1" r="0.55" fill="#111"/>
<circle cx="255.3" cy="254.8" r="1.1" fill="#111"/>
<circle cx="254.6" cy="289.8" r="0.8" fill="#111"/>
</g>
<rect x="42.5" y="36.5" width="216" height="302" class="frame"/>
<line x1="64.0" y1="338.6" x2="64.0" y2="335.4" class="tick"/>
<line x1="64.0" y1="36.6" x2="64.0" y2="39.8" class="tick"/>
<line x1="107.2" y1="338.6" x2="107.2" y2="335.4" class="tick"/>
<line x1="107.2" y1="36.6" x2="107.2" y2="39.8" class="tick"/>
<line x1="150.4" y1="338.6" x2="150.4" y2="335.4" class="tick"/>
<line x1="150.4" y1="36.6" x2="150.4" y2="39.8" class="tick"/>
<line x1="193.6" y1="338.6" x2="193.6" y2="335.4" class="tick"/>
<line x1="193.6" y1="36.6" x2="193.6" y2="39.8" class="tick"/>
<line x1="236.8" y1="338.6" x2="236.8" y2="335.4" class="tick"/>
<line x1="236.8" y1="36.6" x2="236.8" y2="39.8" class="tick"/>
<line x1="42.4" y1="79.8" x2="45.6" y2="79.8" class="tick"/>
<line x1="258.4" y1="79.8" x2="255.2" y2="79.8" class="tick"/>
<line x1="42.4" y1="123.0" x2="45.6" y2="123.0" class="tick"/>
<line x1="258.4" y1="123.0" x2="255.2" y2="123.0" class="tick"/>
<line x1="42.4" y1="166.2" x2="45.6" y2="166.2" class="tick"/>
<line x1="258.4" y1="166.2" x2="255.2" y2="166.2" class="tick"/>
<line x1="42.4" y1="209.4" x2="45.6" y2="209.4" class="tick"/>
<line x1="258.4" y1="209.4" x2="255.2" y2="209.4" class="tick"/>
<line x1="42.4" y1="252.6" x2="45.6" y2="252.6" class="tick"/>
<line x1="258.4" y1="252.6" x2="255.2" y2="252.6" class="tick"/>
<line x1="42.4" y1="295.8" x2="45.6" y2="295.8" class="tick"/>
<line x1="258.4" y1="295.8" x2="255.2" y2="295.8" class="tick"/>
<circle cx="139.5" cy="84.8" r="3.4" fill="#2b379a" class="dot"/>
<circle cx="175.8" cy="95.8" r="3.4" fill="#2b379a" class="dot"/>
<circle cx="153.8" cy="99" r="3.4" fill="#46bdee" class="dot"/>
<circle cx="189.9" cy="141.9" r="3.4" fill="#f4b719" class="dot"/>
<circle cx="199.3" cy="145.1" r="3.4" fill="#e6252a" class="dot"/>
<circle cx="193.7" cy="146.7" r="3.4" fill="#8dc75a" class="dot"/>
<circle cx="199.6" cy="151.3" r="3.4" fill="#efe320" class="dot"/>
<circle cx="195.2" cy="152.6" r="3.4" fill="#3b97da" class="dot"/>
<circle cx="205.8" cy="160.5" r="3.4" fill="#62c6cc" class="dot"/>
<circle cx="199.8" cy="160.5" r="3.4" fill="#e6252a" class="dot"/>
<circle cx="195.6" cy="166.0" r="3.4" fill="#42b6e8" class="dot"/>
<circle cx="196.1" cy="172.4" r="3.4" fill="#3a6ac8" class="dot"/>
<circle cx="195.7" cy="175.3" r="3.4" fill="#f07f22" class="dot"/>
<circle cx="195.3" cy="178.5" r="3.4" fill="#3457b8" class="dot"/>
<circle cx="195.3" cy="182.3" r="3.4" fill="#3565c0" class="dot"/>
<circle cx="194.4" cy="185.6" r="3.4" fill="#3a90d8" class="dot"/>
<circle cx="193.0" cy="189.0" r="3.4" fill="#46bdec" class="dot"/>
<circle cx="194.9" cy="195.7" r="3.4" fill="#3a6ad0" class="dot"/>
<circle cx="192.8" cy="199.8" r="3.4" fill="#3048b0" class="dot"/>
<circle cx="192.6" cy="209.1" r="3.4" fill="#3560c0" class="dot"/>
<circle cx="192.1" cy="215.6" r="3.4" fill="#3a80d0" class="dot"/>
<circle cx="189.9" cy="219.4" r="3.4" fill="#40a8e0" class="dot"/>
<circle cx="187.5" cy="222.3" r="3.4" fill="#40c0ec" class="dot"/>
<circle cx="185.1" cy="227.6" r="3.4" fill="#70c8c0" class="dot"/>
<circle cx="181.7" cy="234.3" r="3.4" fill="#f07820" class="dot"/>
<circle cx="191" cy="276.7" r="3.4" fill="#f07a20" class="dot"/>
<circle cx="189" cy="280.9" r="3.4" fill="#6fc8aa" class="dot"/>
<circle cx="184.6" cy="286.4" r="3.4" fill="#5fc2cb" class="dot"/>
<rect x="47.4" y="143.2" width="72.2" height="189.6" class="legend"/>
<rect x="69.3" y="179.3" width="12" height="145.3" fill="url(#cb)" stroke="#5a5a5a" stroke-width="0.5"/>
<line x1="81.3" y1="252" x2="79.3" y2="252" stroke="#555" stroke-width="0.6"/>
<text transform="translate(84.80,157.20) scale(1.055,1)" class="t11" text-anchor="middle">Subsidence</text>
<text transform="translate(75.30,173.70) scale(1.055,1)" class="t11" text-anchor="middle">m</text>
<text transform="translate(88.60,184.40) scale(1.055,1)" class="t11">2.0</text>
<text transform="translate(88.60,255.90) scale(1.055,1)" class="t11">1.0</text>
<text transform="translate(88.60,328.20) scale(1.055,1)" class="t11">0.0</text>
<text transform="translate(36.30,40.60) scale(1.055,1)" class="t11" text-anchor="end">52<tspan font-size="8.5" dy="-3.3">o</tspan><tspan dy="3.3">N</tspan></text>
<text transform="translate(36.30,83.80) scale(1.055,1)" class="t11" text-anchor="end">50<tspan font-size="8.5" dy="-3.3">o</tspan><tspan dy="3.3">N</tspan></text>
<text transform="translate(36.30,127.00) scale(1.055,1)" class="t11" text-anchor="end">48<tspan font-size="8.5" dy="-3.3">o</tspan><tspan dy="3.3">N</tspan></text>
<text transform="translate(36.30,170.20) scale(1.055,1)" class="t11" text-anchor="end">46<tspan font-size="8.5" dy="-3.3">o</tspan><tspan dy="3.3">N</tspan></text>
<text transform="translate(36.30,213.40) scale(1.055,1)" class="t11" text-anchor="end">44<tspan font-size="8.5" dy="-3.3">o</tspan><tspan dy="3.3">N</tspan></text>
<text transform="translate(36.30,256.60) scale(1.055,1)" class="t11" text-anchor="end">42<tspan font-size="8.5" dy="-3.3">o</tspan><tspan dy="3.3">N</tspan></text>
<text transform="translate(36.30,299.80) scale(1.055,1)" class="t11" text-anchor="end">40<tspan font-size="8.5" dy="-3.3">o</tspan><tspan dy="3.3">N</tspan></text>
<text transform="translate(36.30,343.00) scale(1.055,1)" class="t11" text-anchor="end">38<tspan font-size="8.5" dy="-3.3">o</tspan><tspan dy="3.3">N</tspan></text>
<text transform="translate(64.80,355.90) scale(1.04,1)" class="t11" text-anchor="middle">130<tspan font-size="8.5" dy="-3.3">o</tspan><tspan dy="3.3">W</tspan></text>
<text transform="translate(108.00,355.90) scale(1.04,1)" class="t11" text-anchor="middle">128<tspan font-size="8.5" dy="-3.3">o</tspan><tspan dy="3.3">W</tspan></text>
<text transform="translate(151.20,355.90) scale(1.04,1)" class="t11" text-anchor="middle">126<tspan font-size="8.5" dy="-3.3">o</tspan><tspan dy="3.3">W</tspan></text>
<text transform="translate(194.40,355.90) scale(1.04,1)" class="t11" text-anchor="middle">124<tspan font-size="8.5" dy="-3.3">o</tspan><tspan dy="3.3">W</tspan></text>
<text transform="translate(237.60,355.90) scale(1.04,1)" class="t11" text-anchor="middle">122<tspan font-size="8.5" dy="-3.3">o</tspan><tspan dy="3.3">W</tspan></text>
<text transform="translate(8.60,20.80) scale(1.0,1)" class="lbl">(a)</text>
<text transform="translate(86.30,25.80) scale(1.066,1)" class="t13">1700 Cascadia event</text>
</g>
<g transform="translate(283.2,0)">
<line x1="64.0" y1="36.6" x2="64.0" y2="338.6" class="grid"/>
<line x1="107.2" y1="36.6" x2="107.2" y2="338.6" class="grid"/>
<line x1="150.4" y1="36.6" x2="150.4" y2="338.6" class="grid"/>
<line x1="193.6" y1="36.6" x2="193.6" y2="338.6" class="grid"/>
<line x1="236.8" y1="36.6" x2="236.8" y2="338.6" class="grid"/>
<line x1="42.4" y1="79.8" x2="258.4" y2="79.8" class="grid"/>
<line x1="42.4" y1="123.0" x2="258.4" y2="123.0" class="grid"/>
<line x1="42.4" y1="166.2" x2="258.4" y2="166.2" class="grid"/>
<line x1="42.4" y1="209.4" x2="258.4" y2="209.4" class="grid"/>
<line x1="42.4" y1="252.6" x2="258.4" y2="252.6" class="grid"/>
<line x1="42.4" y1="295.8" x2="258.4" y2="295.8" class="grid"/>
<g clip-path="url(#mapclip)">
<polyline points="42.5,42.0 46.0,45.0 50.0,47.5 55.0,50.0 60.0,52.0 64.0,55.0 68.0,59.5 72.0,63.0 78.0,66.0 85.0,68.8 89.4,71.0 93.8,74.3 97.1,77.1 99.8,80.9 101.5,82.6 105.3,84.2 108.1,87.0 109.7,90.3 110.8,94.1 111.4,98.0 113.0,100.7 115.8,102.9 119.3,104.6 126.4,107.5 132.0,111.6 136.4,117.3 139.7,123.6 144.7,131.0 148.4,136.0 150.9,144.7 154.6,154.6 158.3,165.7 161.5,176.8 162.5,186.7 163.3,200.0 162.0,209.0 161.2,218.8 162.7,224.6 165.4,230.4 166.5,241.0 165.0,245.8 166.0,253.5 165.8,258.2 168.6,265.1 170.3,268.8 172.5,274.0 173.0,279.0 175.6,284.5 179.6,287.8 184.6,290.8 187.8,292.8 191.0,299.1 195.7,308.5 201.9,317.9 207.4,326.5 212.9,332.0 217.6,337.5 218.4,338.6" class="plate"/>
<polyline points="42.5,42.0 45.5,44.5 43.0,50.0" class="plate"/>
<polyline points="42.5,56.5 48.0,61.0 53.0,65.0 57.0,68.0 58.5,70.0 57.5,72.0 59.5,73.5 61.0,75.0 58.5,76.5 58.0,78.0 60.5,80.0 53.0,91.0 60.0,93.5 70.0,97.0 80.0,101.0 87.5,104.0 82.0,112.5 87.5,116.0 81.5,126.0 87.5,129.0 80.5,143.5" class="plate"/>
<polyline points="119.8,223.7 137.1,230.4 128.5,244.8 123.7,256.3 121.2,259.6 119.8,260.0" class="plate"/>
<polyline points="120.2,286.2 150.0,287.6 170.0,288.4 181.3,289.3" class="plate"/>
<polyline points="98.0,63.3 98.9,64.2 99.7,65.2 100.8,66.1 101.6,66.8 102.8,67.0 103.4,67.5 105.5,67.8 105.7,69.4 105.7,70.9 106.9,71.7 107.2,73.1 109.1,73.4 110.1,75.3 111.2,74.9 112.4,75.5 113.5,75.5 115.1,74.6 116.1,75.5 117.1,76.2 117.7,77.8 119.0,78.1 120.6,77.6 121.5,79.1 123.1,78.5 124.0,79.7 125.5,79.3 126.7,79.4 127.5,81.2 129.0,80.4 130.2,80.7 131.0,82.3 132.3,82.6 134.0,82.1 134.5,83.6 136.2,84.2 137.1,85.4 138.4,86.3 137.7,88.1 138.7,89.3 139.6,90.3 140.8,90.8 142.4,90.4 143.5,91.1 144.7,91.3 145.7,91.7 146.8,92.1 147.6,93.0 148.4,94.0 150.2,93.8 150.0,95.6 151.2,96.4 152.0,97.6 152.4,99.5 153.7,99.2 155.0,99.2 156.1,99.8 157.2,100.5 158.8,99.7 159.4,101.7 161.2,100.5 162.0,102.2 163.2,102.8 164.9,101.9 165.6,103.6 167.1,103.4 168.2,104.2 169.7,103.6 171.0,104.2 172.0,105.1 172.4,106.9 174.2,106.4 174.8,107.9 175.7,108.7 176.6,109.2 178.1,108.7 179.1,109.3 180.0,110.0 181.2,110.7 182.6,109.8 183.7,111.2 184.8,111.5 186.0,112.0 187.7,111.0 188.3,113.0 190.0,111.9 191.1,112.7 192.2,113.5 193.2,114.3 194.7,113.6 195.6,114.9 197.0,114.6 198.3,114.4 199.6,114.7 200.9,114.7 202.0,115.5" class="coast"/>
<polyline points="202.0,115.5 203.2,114.7 204.4,113.6 204.5,112.2 204.7,111.0 204.4,109.5 205.2,107.9 204.3,106.7 203.9,105.2 202.9,104.1 202.3,102.5 200.8,101.5 200.2,99.7 198.9,99.1 197.5,98.8 196.3,98.1 195.1,97.3 193.6,97.3 192.5,96.4 191.4,95.6 189.9,95.7 188.8,94.6 187.4,94.3 186.2,93.7 184.7,93.9 183.2,93.7 182.2,92.3 180.8,91.6 179.2,91.3 177.4,90.6 175.8,89.4 175.2,88.0 173.9,87.2 173.4,85.6 172.0,84.7 170.6,83.8 169.9,82.3 168.6,81.4 168.1,79.9 167.1,78.9 165.7,78.0 164.8,76.7 163.8,75.5 162.8,74.1 161.7,72.5 160.0,73.1 158.9,72.4 157.6,71.7 156.2,71.6 155.1,70.9 153.6,71.0 152.7,69.7 151.3,69.7 149.9,69.7 148.4,68.6 146.6,68.6 144.9,68.3 143.7,67.7 142.3,67.9 140.9,67.6 139.7,66.7 138.3,66.7 136.9,67.3 135.7,66.2 134.1,66.9 133.0,66.1 131.9,65.0 130.5,65.0 129.1,64.9 127.8,64.4 126.5,64.0 125.2,63.9 124.2,62.5 122.6,63.2 121.5,62.3 120.3,61.6 118.9,61.5 117.8,60.4 116.1,61.2 114.7,60.1 113.1,60.1 111.6,60.2 109.9,59.8 108.5,60.5 107.0,60.3 105.5,60.5 104.0,61.0 102.5,61.6 100.9,61.9 99.5,62.8 98.0,63.3" class="coast"/>
<polyline points="105.3,68.9 105.6,68.6 106.7,67.5" class="coast"/>
<polyline points="106.5,70.7 107.1,70.6 108.6,70.5" class="coast"/>
<polyline points="107.9,72.4 108.4,71.9 108.6,71.5" class="coast"/>
<polyline points="109.6,74.3 109.6,73.7 110.3,73.1" class="coast"/>
<polyline points="111.2,75.1 111.8,74.4 112.6,73.3" class="coast"/>
<polyline points="112.7,75.5 113.3,74.7 113.5,74.1" class="coast"/>
<polyline points="114.1,76.0 113.8,75.5 114.0,74.4" class="coast"/>
<polyline points="115.4,76.5 116.1,75.6 117.6,74.8" class="coast"/>
<polyline points="117.3,77.5 117.9,76.6 117.7,76.4" class="coast"/>
<polyline points="119.5,78.6 120.2,77.7 120.2,77.4" class="coast"/>
<polyline points="120.6,79.2 120.5,78.2 121.3,78.1" class="coast"/>
<polyline points="121.3,79.4 121.4,78.0 121.8,76.5" class="coast"/>
<polyline points="122.8,79.7 122.7,79.1 122.4,77.5" class="coast"/>
<polyline points="124.1,80.0 124.2,78.8 124.9,78.0" class="coast"/>
<polyline points="127.8,80.9 127.5,79.8 126.9,77.9" class="coast"/>
<polyline points="129.5,81.2 128.9,80.3 128.6,79.0" class="coast"/>
<polyline points="132.0,81.8 131.8,80.9 131.9,79.2" class="coast"/>
<polyline points="134.1,82.9 134.9,82.0 134.8,81.0" class="coast"/>
<polyline points="135.3,83.5 135.6,81.9 136.0,80.9" class="coast"/>
<polyline points="135.9,83.8 136.3,82.6 136.4,82.2" class="coast"/>
<polyline points="137.4,85.4 138.3,85.4 138.6,85.4" class="coast"/>
<polyline points="138.4,87.8 139.1,87.4 140.0,87.6" class="coast"/>
<polyline points="139.4,89.2 140.0,88.2 140.0,87.4" class="coast"/>
<polyline points="141.6,90.4 141.9,89.5 142.7,89.5" class="coast"/>
<polyline points="145.3,92.2 146.4,91.9 146.5,91.4" class="coast"/>
<polyline points="146.5,92.8 146.4,92.3 146.6,91.6" class="coast"/>
<polyline points="149.2,94.1 149.3,92.9 149.2,92.3" class="coast"/>
<polyline points="150.5,95.9 151.1,95.5 152.6,95.1" class="coast"/>
<polyline points="151.9,98.0 153.3,96.8 153.9,96.3" class="coast"/>
<polyline points="153.3,99.1 154.1,97.7 155.0,97.1" class="coast"/>
<polyline points="154.6,99.4 154.6,98.0 154.3,97.3" class="coast"/>
<polyline points="157.2,100.1 156.7,99.3 156.7,98.6" class="coast"/>
<polyline points="159.6,100.8 159.6,100.3 159.6,99.0" class="coast"/>
<polyline points="161.7,101.6 161.9,100.6 161.1,98.7" class="coast"/>
<polyline points="163.9,102.4 164.7,101.0 164.7,100.5" class="coast"/>
<polyline points="165.8,103.1 166.2,102.3 166.0,101.0" class="coast"/>
<polyline points="167.2,103.7 167.6,102.6 167.9,101.3" class="coast"/>
<polyline points="168.5,104.1 169.1,102.8 169.0,101.9" class="coast"/>
<polyline points="171.9,105.7 173.1,104.2 173.5,103.7" class="coast"/>
<polyline points="173.9,106.9 174.6,105.6 175.5,105.2" class="coast"/>
<polyline points="107.1,71.6 108.1,72.4 108.8,73.5 109.9,74.5 111.4,74.0 112.6,74.2 113.6,75.2 114.9,75.4 115.5,76.8 116.6,77.1 117.6,77.4 118.7,77.8 119.6,78.5 120.9,78.1 121.7,78.8 122.9,78.6 123.6,80.2 125.0,78.9 125.6,80.5 126.9,79.4 127.9,80.7 129.1,80.3 130.2,80.6 131.0,81.6 132.6,80.7 133.4,81.2 133.7,83.0 134.9,82.8 135.8,83.2" class="coast"/>
<polyline points="139.0,89.5 140.3,89.7 141.0,90.9 142.1,91.5 143.1,92.4 144.7,91.8 145.6,92.4 146.7,92.7 147.7,93.4 148.3,94.7 150.1,94.4 150.1,95.7 151.1,96.3 151.6,97.3 152.0,98.3 152.3,99.9 153.4,99.8 154.7,99.0 155.6,99.7 156.7,99.8 157.3,101.3 158.3,101.4 159.3,101.8 160.3,102.2 161.4,102.5 162.3,103.2 163.4,103.3 164.8,102.8 165.4,104.2 166.6,103.9 167.4,104.7 168.6,104.8 169.6,104.9 170.6,105.4" class="coast"/>
<polyline points="130.0,86.5 136.0,88.0 145.0,87.5" class="coast"/>
<polyline points="163.6,78.7 158.4,80.8 157.8,83.9 159.9,86.0 160.4,88.6" class="coast"/>
<polyline points="183.5,103.0 192.0,105.5" class="coast"/>
<polyline points="104.0,65.6 110.0,65.5 117.7,66.3" class="coast"/>
<polyline points="114.7,68.6 119.2,71.6" class="coast"/>
<polyline points="108.6,67.1 112.0,68.0 116.0,70.0" class="coast"/>
<polyline points="216.0,122.0 213.2,120.9 211.4,119.1 205.0,120.0 198.6,119.5 191.4,118.6 184.1,116.4 177.7,114.5 177.3,118.2 178.6,123.6 181.0,126.5 183.2,128.2 184.6,131.0 185.5,135.0 187.7,138.5 189.9,141.9" class="coast2"/>
<polyline points="191.9,156.8 192.9,159.7" class="coast2"/>
<polyline points="181.7,234.3 183.6,241.2 184.2,244.9 185.4,248.6 187.3,251.1 189.1,252.9 188.5,255.4 189.1,257.2 191.0,259.7 192.2,263.4 192.6,267.1 191.6,270.8 190.4,273.3 191.0,276.7" class="coast2"/>
<polyline points="184.6,286.4 185.7,290.2 189.0,292.5 192.8,295.2" class="coast2"/>
<polyline points="205.8,160.5 211.0,161.5 216.5,163.7 219.2,167.0 219.8,171.4 220.9,174.1 225.3,174.7 230.8,176.3 235.2,175.2 239.6,173.4 246.2,172.0 251.6,173.0 255.0,174.5 257.5,173.8" class="coast2"/>
<polyline points="189.5,252.4 258.0,252.4" class="coast2"/>
<polyline points="219.5,101.2 258.0,101.2" class="coast2"/>
<polyline points="235.5,240.0 238.5,239.5 237.8,242.0 241.2,246.2 240.6,247.8 236.8,244.3 235.5,240.0" class="coast2"/>
<polyline points="237.0,241.0 239.5,245.0" class="coast2"/>
<polyline points="233.3,85.1 237.7,87.5 240.4,90.2 241.8,93.7 239.7,94.0 239.5,90.9" class="coast2"/>
<polyline points="222.6,88.8 226.0,91.5 223.0,94.3" class="coast2"/>
<polyline points="90.2,63.2 92.0,62.7 94.8,62.7" class="coast2"/>
<polyline points="189.0,45.5 190.0,48.5 191.8,51.2 193.6,53.0 191.8,54.9 192.7,56.7" class="coast2"/>
<polyline points="189.8,45.8 190.8,48.3 192.6,51.0 193.8,52.5" class="coast2"/>
<polyline points="195.0,77.0 197.0,75.8 199.4,77.5 196.0,79.0" class="coast2"/>
<polyline points="124.0,59.2 126.0,59.2 128.0,59.6 129.9,60.7 132.0,59.6 134.0,59.8 136.0,60.2 138.1,59.3 140.0,60.4 142.0,60.9 143.8,61.5 146.3,60.0 148.2,61.2 150.4,61.3 151.7,63.9 153.8,64.4 156.4,63.5 157.6,66.6 159.7,67.2 161.9,66.9 163.9,67.2 166.3,66.5 168.5,66.8 170.0,68.9 172.6,68.7 174.4,70.0 176.4,71.2 178.8,72.1 180.1,74.5 182.1,76.0 183.4,78.5 186.0,79.2 187.8,80.9 190.0,81.9 191.8,83.5 194.0,84.3" class="coast"/>
<polyline points="124.0,60.8 126.0,61.0 127.9,61.8 129.9,62.1 132.1,61.0 134.2,60.9 136.0,62.1 138.1,62.1 139.9,63.8 141.9,63.7 143.9,63.7 146.0,64.0 147.9,64.8 150.3,64.1 152.1,65.6 154.3,65.6 155.7,68.3 158.4,66.7 159.8,69.3 162.2,67.8 163.9,69.9 166.2,69.5 168.1,70.8 169.5,72.9 172.6,72.0 174.6,73.2 175.3,76.3 178.0,76.8 180.6,77.3 181.2,80.7 183.3,82.0 186.6,81.3 188.1,83.4 190.5,83.9 192.3,85.4 194.0,87.0" class="coast"/>
<polyline points="124.0,62.2 126.2,62.1 127.9,63.8 129.9,64.3 131.8,65.2 134.1,63.9 136.1,64.3 138.1,64.3 140.1,64.8 141.9,66.4 144.2,65.0 146.0,66.6 148.2,66.3 150.2,67.1 152.1,68.2 153.7,69.9 155.9,70.0 158.4,69.0 160.2,70.3 162.2,70.5 163.7,72.9 165.5,73.2 167.5,74.6 169.5,76.1 171.7,77.2 173.4,78.9 175.5,79.7 178.4,79.9 179.5,82.7 182.0,83.0 183.6,84.8 185.9,85.5 188.1,86.3 190.2,87.3 192.1,88.5 194.0,89.7" class="coast"/>
<polyline points="117.0,58.5 118.4,58.3 119.7,58.9 121.0,58.8 122.7,59.0 124.4,58.9 126.0,57.8 127.3,57.7 128.7,59.0 130.0,58.1 131.4,58.2 132.6,59.5 134.0,58.7 135.3,59.4 136.7,58.9 138.0,59.2 139.4,58.6 140.6,59.5 141.9,60.1 143.3,59.7 144.6,60.2 145.9,60.3 147.5,59.7 148.6,61.1 149.9,61.1 151.4,61.3 152.8,61.6 153.5,63.4 155.0,63.5 156.1,64.2 157.3,64.8 158.7,65.0 159.8,65.6 161.3,65.2 162.4,66.2 163.8,66.0 164.8,67.2 166.1,67.5 167.7,66.6 168.9,67.1 170.2,67.6 170.9,69.4 172.6,69.4 173.6,70.4 175.2,70.7 176.2,71.9 177.6,72.6 178.9,73.4 179.9,74.6 181.2,75.6 182.1,77.0 183.6,77.7 184.7,79.1 185.9,79.7 186.9,80.5 188.4,80.7 189.9,80.7 190.5,82.3 191.7,83.2 193.1,83.7 194.6,83.8 195.9,84.6 197.5,84.4 198.5,85.9 200.0,86.1 201.4,85.9 202.7,85.9 203.7,87.4 205.0,87.9 206.6,86.8 207.6,88.2 209.1,87.9 210.4,88.1 211.5,88.9 212.4,90.2 213.5,90.9 215.6,90.5 215.9,92.4 217.6,93.0 217.7,95.0 219.0,96.0" class="coast"/>
<polyline points="125.0,64.0 126.4,63.9 127.7,64.0 128.9,64.7 130.3,64.6 131.6,64.8 132.7,65.6 133.9,66.7 135.3,66.7 136.7,66.8 138.2,66.1 139.5,66.8 140.9,66.6 142.3,66.6 143.7,66.7 145.1,67.1 146.1,68.5 147.3,68.8 148.6,69.1 149.8,69.5 151.7,69.0 153.1,69.7 154.4,70.7 155.9,71.4 157.1,71.9 158.3,72.3 159.9,71.5 161.0,72.7 162.5,73.1 164.1,73.2 165.7,73.5" class="coast"/>
<polyline points="96.3,37.3 96.4,38.8 97.5,39.8" class="coast"/>
<polyline points="98.0,37.3 98.8,38.4 98.8,39.8" class="coast"/>
<polyline points="100.0,37.3 100.6,38.7 102.3,38.7 103.5,39.6 103.3,41.4 105.0,41.7 105.9,42.7 106.2,44.1 107.3,44.9 107.6,46.3 109.3,47.0 109.4,48.8 111.0,49.6 111.4,51.0 111.4,52.7 112.3,54.1 112.7,55.6 113.8,56.7 115.4,56.6 115.7,58.3 117.0,58.5" class="coast"/>
<polyline points="103.0,37.3 103.6,38.6 104.6,39.6 105.5,40.3 107.2,40.7 107.2,42.1 108.1,42.9 108.6,44.0 109.8,44.7 110.4,45.8 110.7,47.0 111.7,47.8 112.1,49.0 113.1,50.3 113.5,51.7 113.5,53.6 114.6,54.9 115.7,56.0 117.0,57.0" class="coast"/>
<polyline points="104.0,37.3 105.2,37.6 106.4,37.9 107.6,37.0 108.8,38.2 110.0,37.1 111.5,37.7 112.9,36.8 114.4,37.3" class="coast"/>
<polyline points="101.0,38.0 101.7,39.4 101.5,41.3 102.4,42.4 104.0,43.1 104.0,44.7 105.1,46.1 106.2,46.9 107.0,48.6 108.5,48.5" class="coast"/>
<polyline points="106.0,38.0 106.7,39.5 108.2,40.2 109.2,40.9 109.9,42.1 112.0,43.0" class="coast"/>
<polyline points="109.0,43.9 107.6,44.2 106.6,45.1 105.6,46.0" class="coast"/>
<polyline points="110.8,39.8 110.9,40.4 110.1,40.3 109.6,40.2 109.5,39.8 109.5,39.3 110.1,39.0 110.8,39.2 110.8,39.8" class="coast"/>
<polyline points="113.5,50.9 112.3,51.5 110.9,51.2" class="coast"/>
<polyline points="114.3,52.9 113.4,53.5 113.4,54.7 112.1,55.1 112.0,56.2" class="coast"/>
<polyline points="113.0,51.5 113.3,52.9 111.6,52.6 110.7,52.3 109.5,51.5 110.1,50.4 111.6,50.0 112.6,50.8 113.0,51.5" class="coast"/>
<polyline points="107.1,43.0 106.2,43.7 105.1,44.0 103.9,43.6 102.9,43.9" class="coast"/>
<polyline points="101.8,39.1 101.5,40.2 101.5,41.4 101.6,42.6" class="coast"/>
<polyline points="108.8,37.1 110.0,37.4 110.8,38.4" class="coast"/>
<polyline points="110.7,46.7 109.8,47.1 108.7,47.3" class="coast"/>
<polyline points="105.4,44.9 104.4,45.8 102.9,46.0 102.4,44.9 103.3,44.3 104.5,44.0 105.4,44.9" class="coast"/>
<polyline points="113.7,53.2 112.7,53.7 111.7,54.6 110.4,54.5" class="coast"/>
<polyline points="112.1,56.5 113.1,56.9 114.2,56.3 115.1,57.1 116.1,57.1" class="coast"/>
<polyline points="110.7,40.8 112.1,41.1 113.1,42.1" class="coast"/>
<polyline points="103.1,44.8 104.1,45.0 105.2,44.9" class="coast"/>
<polyline points="157.6,65.3 158.1,66.7 158.6,68.1" class="coast"/>
<polyline points="183.9,75.0 183.4,76.1 181.6,76.3 180.7,75.0 181.6,73.8 183.3,74.0 183.9,75.0" class="coast"/>
<polyline points="174.8,67.8 174.1,68.8 174.7,69.9" class="coast"/>
<polyline points="181.9,69.5 180.9,70.8 179.0,70.6 178.1,69.5 178.8,68.1 180.6,68.5 181.9,69.5" class="coast"/>
<polyline points="175.6,72.8 174.4,73.9 172.9,73.4 172.9,72.2 174.3,72.1 175.6,72.8" class="coast"/>
<polyline points="166.0,71.1 166.9,72.2 166.7,73.6" class="coast"/>
<polyline points="180.9,72.5 180.9,73.0 180.2,73.4 179.5,73.0 179.1,72.5 179.6,72.0 180.2,71.9 180.9,71.9 180.9,72.5" class="coast"/>
<polyline points="182.7,76.1 181.5,76.2 180.8,77.4 179.7,77.8 178.5,78.0" class="coast"/>
<polyline points="174.4,71.5 175.2,72.4 174.8,73.9 175.9,74.7 176.3,75.8" class="coast"/>
<polyline points="172.3,74.0 170.8,74.8 169.7,75.5 169.0,74.4 168.4,73.4 169.8,73.0 171.6,72.6 172.3,74.0" class="coast"/>
<polyline points="159.0,66.9 158.8,67.4 158.2,67.4 157.5,67.5 157.2,66.9 157.5,66.4 158.2,66.3 158.7,66.6 159.0,66.9" class="coast"/>
<polyline points="179.7,77.4 180.9,77.1 181.8,77.9 182.6,78.9 183.8,78.6" class="coast"/>
<polyline points="177.0,75.4 176.6,76.0 175.7,76.3 174.8,76.1 174.1,75.4 174.6,74.6 175.7,74.1 176.8,74.5 177.0,75.4" class="coast"/>
<polyline points="178.2,71.0 177.5,72.1 178.0,73.5 176.8,74.5 176.9,75.8" class="coast"/>
<polyline points="183.8,73.9 182.7,74.4 181.9,74.6 180.8,74.3 181.2,73.5 181.9,73.1 182.8,73.2 183.8,73.9" class="coast"/>
<polyline points="174.9,74.1 174.5,74.8 173.4,74.9 172.8,74.1 173.4,73.3 174.7,73.3 174.9,74.1" class="coast"/>
<polyline points="169.7,67.4 170.3,68.4 171.6,68.5 172.5,69.1 173.2,70.1" class="coast"/>
<polyline points="182.6,71.8 181.6,72.5 181.8,73.9 180.8,74.6 180.5,75.7" class="coast"/>
<polyline points="168.5,71.3 168.0,72.3 166.8,72.7" class="coast"/>
<polyline points="175.4,67.2 173.9,68.1 172.0,68.1 172.2,66.4 174.2,65.8 175.4,67.2" class="coast"/>
<polyline points="177.4,72.8 176.3,73.5 176.1,74.9 175.0,75.6" class="coast"/>
<polyline points="159.1,66.8 158.5,67.9 157.7,69.0" class="coast"/>
<polyline points="112.0,43.0 113.3,42.5 114.8,42.4 115.8,41.1 117.2,40.9 118.6,41.1 119.8,40.4 121.0,39.8" class="coast"/>
<polyline points="113.6,43.0 115.1,42.8 116.5,42.6 118.0,42.5 119.3,43.4 120.7,43.2 122.1,43.5 123.5,43.5" class="coast"/>
<polyline points="112.0,45.5 113.4,45.9 114.9,45.5 116.3,46.0 117.7,46.4" class="coast"/>
<polyline points="108.7,48.8 110.2,48.5 111.6,49.3 112.9,48.8 114.2,49.2 115.4,49.5 116.7,49.7 118.0,49.5 119.2,49.6 120.5,49.3 121.6,49.8 122.8,49.9 124.0,50.5 125.2,50.3 126.4,50.4" class="coast"/>
<polyline points="110.0,50.5 111.3,50.5 112.5,50.7 113.7,51.1 115.0,50.5 116.4,50.7 117.8,50.7 119.2,51.0 120.6,51.0 121.9,51.7" class="coast"/>
<polyline points="109.0,53.0 110.7,52.9 112.4,53.2 113.7,52.9 114.9,53.2 116.2,53.0 117.5,53.0 118.7,53.4 120.0,53.3 121.2,53.6 122.5,54.1 123.8,53.5 125.0,54.1 126.3,53.6 127.5,54.3 128.8,54.3 130.0,53.8 131.3,54.4 132.5,54.3 133.8,53.7 135.0,54.0 136.5,54.1 136.5,52.5" class="coast"/>
<polyline points="110.0,56.0 111.3,56.7 112.9,56.6 114.3,57.1 115.7,57.8 117.1,56.9 118.6,57.0 120.0,56.9 121.4,57.2 122.8,56.2 124.2,56.1 125.6,56.5" class="coast"/>
<polyline points="127.0,57.5 128.4,56.5 130.0,55.7 131.2,55.3 132.4,54.8 133.7,54.6 134.9,54.0 136.2,53.7" class="coast"/>
<polyline points="138.0,59.0 139.0,58.3 139.9,57.1 141.5,57.5 143.0,57.0" class="coast"/>
<polyline points="155.0,67.0 155.4,65.3 156.4,64.0 156.6,62.6 157.7,61.6 158.1,60.1 158.6,58.7" class="coast"/>
<polyline points="159.0,67.5 160.0,66.7 160.9,65.7 162.0,65.0" class="coast"/>
<polyline points="170.0,70.0 170.4,68.6 171.3,67.3 171.7,65.8 173.0,64.6 173.3,62.8 174.3,62.0 175.4,61.2 175.9,59.5" class="coast"/>
<polyline points="172.4,67.4 173.8,66.2 174.5,64.5" class="coast"/>
<polyline points="178.5,71.0 179.7,70.8 180.9,70.7 182.0,70.0 183.3,69.7 184.7,69.5 185.8,68.6" class="coast"/>
<polyline points="181.0,75.0 182.3,74.5 182.8,73.1 184.0,72.5" class="coast"/>
<polyline points="186.0,79.0 186.8,77.9 188.3,77.9 188.8,76.5 190.1,76.2 191.4,76.0 192.7,75.6 194.0,75.0" class="coast"/>
<polyline points="194.6,76.0 195.5,77.6 197.0,78.4 195.8,79.1 194.5,79.7 193.1,80.1 191.7,81.4 193.4,82.1 194.6,83.4" class="coast"/>
<polyline points="199.6,84.7 201.1,85.6 202.0,87.1" class="coast"/>
<polyline points="196.0,86.0 196.4,84.7 196.4,83.3 197.1,82.0 197.6,80.7 196.9,79.3 197.5,78.0" class="coast"/>
<polyline points="194.0,91.0 193.5,89.8 193.9,88.4 193.7,87.2 192.5,86.0 193.2,84.7 193.0,83.5 192.8,82.2 192.5,81.0" class="coast"/>
<polyline points="195.6,91.0 195.3,89.8 195.4,88.5 194.9,87.3 195.3,85.9 194.6,84.7 194.2,83.4 194.0,82.0" class="coast"/>
<polyline points="197.8,86.6 198.9,86.0 200.0,85.6 201.7,85.2 203.3,84.4" class="coast"/>
<polyline points="205.5,88.8 206.9,88.5 207.9,87.2 209.6,87.5 211.0,86.6" class="coast"/>
<polyline points="204.4,89.9 205.6,90.4 206.9,90.8 207.8,91.9 209.3,92.2 210.8,92.5 211.8,93.8 213.2,94.3" class="coast"/>
<polyline points="211.0,96.5 212.3,97.5 213.4,98.6 214.6,99.3 215.2,100.5 216.5,101.0" class="coast"/>
<polyline points="205.0,93.0 205.9,92.2 206.9,91.3 208.2,91.0 208.9,90.0 209.6,88.8 210.2,87.6 210.7,86.3 211.5,85.3 212.0,84.0" class="coast"/>
<polyline points="147.0,61.0 147.8,60.0 149.0,59.6 149.8,58.8 151.0,58.2 152.0,57.5" class="coast"/>
<polyline points="164.0,68.0 164.3,66.8 165.6,66.1 166.0,65.0" class="coast"/>
<polyline points="153.8,60.0 154.6,58.9 155.4,57.4 155.0,56.2 154.5,55.0" class="coast"/>
<polyline points="185.7,74.0 186.5,72.8 186.7,71.2 187.7,70.1 188.9,69.1" class="coast"/>
<polyline points="192.0,78.0 193.6,77.9 194.9,76.8 196.0,76.2 197.0,75.5" class="coast"/>
<polyline points="140.0,59.5 140.9,58.1 142.0,57.1 143.3,56.0 145.0,56.0" class="coast"/>
<polyline points="129.0,58.5 129.7,57.2 131.0,56.6 133.0,55.5" class="coast"/>
<polyline points="208.0,88.0 208.8,86.8 210.0,86.0 211.0,84.0" class="coast"/>
<polyline points="165.7,73.5 166.9,74.2 167.7,75.3 169.0,75.8 169.6,77.1 170.9,77.7 172.3,78.3 173.3,79.7 174.6,80.3 175.8,81.1 176.9,82.2 178.2,83.0 179.3,83.8 180.5,84.3 181.4,85.5 183.1,85.3 183.8,86.8 185.5,87.0 186.6,88.0 187.7,89.2 188.9,90.1 190.4,90.5 191.7,91.1 193.1,91.6 194.5,92.2 196.2,92.0 197.7,92.6 199.3,92.6 200.8,93.6 202.3,93.6 203.7,93.9 205.2,94.2 206.4,95.3 208.1,94.7 209.2,95.9 210.6,96.6 212.3,96.4 213.4,97.7 215.0,98.0" class="coast"/>
<polyline points="174.0,81.8 175.2,82.5 176.4,83.3 177.4,84.3 178.9,84.6 180.1,85.3 181.2,86.4 182.5,87.0 183.8,87.6 185.0,88.4 186.3,89.0 187.7,89.6 188.7,90.6 190.0,91.2" class="coast"/>
<polyline points="209.2,106.3 208.9,107.2 207.6,107.1 206.7,106.7 206.9,105.9 207.7,105.5 208.7,105.5 209.2,106.3" class="coast"/>
<polyline points="214.6,97.5 213.8,98.3 212.4,98.5 211.9,99.6" class="coast"/>
<polyline points="206.2,99.1 206.2,100.3 206.5,101.6" class="coast"/>
<polyline points="206.7,99.3 205.2,100.6 202.5,100.5 202.9,98.3 205.5,97.1 206.7,99.3" class="coast"/>
<polyline points="221.5,110.9 220.4,111.1 220.0,112.4 218.8,112.3" class="coast"/>
<polyline points="216.7,106.7 215.9,107.6 214.4,107.3 214.6,106.2 215.9,105.7 216.7,106.7" class="coast"/>
<polyline points="215.8,103.2 215.8,104.3 215.6,105.3 214.4,105.9 214.1,106.9" class="coast"/>
<polyline points="214.6,110.3 215.7,110.5 216.9,110.7 217.6,111.8 218.7,112.0 219.6,112.7" class="coast"/>
<polyline points="216.4,99.1 216.6,100.2 215.2,99.9 214.4,99.4 214.5,98.7 215.0,97.6 216.6,97.9 216.4,99.1" class="coast"/>
<polyline points="216.4,111.4 215.1,112.1 214.2,112.7 212.5,112.7 212.3,111.4 213.1,110.6 214.2,109.8 215.4,110.5 216.4,111.4" class="coast"/>
<polyline points="194.1,94.1 193.4,94.6 192.6,95.0 191.9,94.7 191.5,94.1 191.8,93.5 192.6,93.0 193.6,93.3 194.1,94.1" class="coast"/>
<polyline points="206.2,104.1 207.3,104.9 207.4,106.2 207.9,107.3 208.2,108.5" class="coast"/>
<polyline points="208.8,103.8 208.5,104.6 207.3,104.9 206.5,104.2 206.7,103.5 207.4,103.1 208.8,102.6 208.8,103.8" class="coast"/>
<polyline points="218.2,99.7 217.4,100.5 217.1,101.8 216.1,102.4" class="coast"/>
<polyline points="223.4,103.4 223.0,104.6 223.0,105.8 224.1,106.9 223.4,108.1 223.6,109.3" class="coast"/>
<polyline points="212.4,104.6 213.2,105.4 213.6,106.4 214.5,107.1 214.1,108.5 215.0,109.2" class="coast"/>
<polyline points="215.1,101.0 214.0,101.6 214.2,102.8 213.8,103.8 213.2,104.6 212.7,105.5" class="coast"/>
<polyline points="216.4,101.7 216.2,102.9 216.9,103.9 217.4,105.0 216.5,106.3 217.3,107.3" class="coast"/>
<polyline points="221.4,108.4 222.6,108.3 223.5,109.1 224.7,109.0 225.5,110.1 226.7,110.2" class="coast"/>
<polyline points="212.8,102.1 212.0,103.0 210.4,102.7 210.6,101.5 211.9,101.5 212.8,102.1" class="coast"/>
<polyline points="196.9,97.6 197.3,99.2 195.3,99.9 193.4,99.1 192.3,97.6 193.9,96.6 195.3,96.5 196.6,96.6 196.9,97.6" class="coast"/>
<polyline points="200.9,94.5 199.8,95.8 197.8,95.8 197.5,94.5 197.8,93.1 199.5,93.6 200.9,94.5" class="coast"/>
<polyline points="211.2,104.0 211.6,105.1 211.5,106.5 212.2,107.6 213.1,108.5" class="coast"/>
<polyline points="204.4,95.1 202.7,96.2 201.0,95.8 201.1,94.4 202.7,93.9 204.4,95.1" class="coast"/>
<polyline points="211.0,100.0 210.4,101.4 208.6,101.9 207.4,100.9 205.8,100.0 206.9,98.7 208.6,98.2 209.9,99.0 211.0,100.0" class="coast"/>
<polyline points="207.5,107.9 206.6,108.4 205.6,108.9 204.4,108.4 203.5,109.0" class="coast"/>
<polyline points="223.3,103.1 222.2,103.9 220.9,103.6 221.0,102.6 222.2,102.4 223.3,103.1" class="coast"/>
<polyline points="206.2,100.2 205.7,101.1 204.8,101.7 204.3,102.7 203.6,103.5 202.6,103.9" class="coast"/>
<polyline points="221.1,110.1 220.4,111.1 219.0,111.0 218.5,110.1 218.9,109.1 220.4,109.2 221.1,110.1" class="coast"/>
<polyline points="219.3,112.0 218.5,113.2 216.0,113.1 216.2,111.0 218.6,110.4 219.3,112.0" class="coast"/>
<polyline points="202.3,101.1 202.4,102.3 201.4,103.4 201.2,104.6 201.2,105.7 201.3,107.0" class="coast"/>
<polyline points="193.6,93.0 194.2,94.1 192.9,95.4 194.3,96.4 193.9,97.6" class="coast"/>
<polyline points="196.2,94.9 197.3,94.7 198.1,96.0 199.3,95.6 200.3,95.7" class="coast"/>
<polyline points="201.8,106.4 201.5,107.7 199.7,107.5 198.5,106.4 199.6,105.1 201.2,105.5 201.8,106.4" class="coast"/>
<polyline points="194.0,93.0 194.9,94.2 196.5,93.9 197.6,94.7 199.1,94.9 199.6,96.7 201.4,96.1 202.3,97.4 203.5,97.9 204.6,98.7 206.1,98.9 207.3,99.4 208.5,100.1 209.9,100.2 210.9,101.1 212.2,101.7 212.8,103.0 214.0,103.3 215.4,103.5 216.4,104.0 217.1,105.1 217.6,106.7 219.6,106.1 220.5,107.4 221.5,108.6 223.0,109.0" class="coast"/>
<polyline points="194.0,96.0 195.2,96.4 195.9,97.5 197.4,97.3 197.6,99.3 198.7,99.8 199.6,100.7 201.2,100.4 202.3,100.9 203.4,101.4 204.3,102.3 205.4,102.7 205.9,104.3 207.3,104.4 208.2,105.7 209.4,106.2 210.9,106.2 212.2,106.5 213.3,107.4 214.7,107.5 215.5,109.0 217.0,109.0 218.3,109.5 219.1,111.2 220.7,111.2 222.0,112.0" class="coast"/>
<polyline points="197.0,95.0 198.4,95.1 198.9,96.5 199.6,97.7 201.1,97.5 202.0,98.4 203.1,98.8 203.8,100.0 204.8,100.6 205.9,101.1 206.6,102.3 207.8,102.6 209.1,102.8 210.1,103.5 210.9,104.5 211.8,105.3 213.2,105.3 213.7,106.7 215.0,106.9 215.8,108.0 217.4,107.8 218.2,108.8 219.4,109.0 220.1,110.2 221.0,111.0" class="coast"/>
<polyline points="210.3,98.0 211.4,98.6 212.0,99.8 212.8,100.9 214.0,101.7 215.6,101.1 216.9,101.7 218.3,101.9 219.0,102.9 219.5,104.1 220.6,105.3 221.9,105.7 223.2,106.1 225.4,105.6 225.8,107.1 225.5,108.3 225.4,109.9 225.3,111.0 225.0,112.6 225.0,114.1 226.5,115.1 226.8,116.4 227.5,117.6 227.0,119.7 228.7,119.4 229.6,120.1 230.8,120.5 232.0,122.0 231.4,123.4 230.7,124.1 230.4,125.7 231.2,126.9 231.6,128.2 231.9,129.7 233.0,131.1 231.7,132.1 231.7,133.8 230.7,134.6 230.2,135.7 229.1,136.4 228.8,137.6 228.4,139.1 227.2,139.5 226.0,140.2 224.9,141.3 223.4,141.2 222.2,141.8 221.0,142.9 219.6,143.0 218.3,142.7 216.7,143.3 215.4,142.9 214.1,142.2 212.9,141.5 212.6,139.9 214.5,139.1 214.2,137.6" class="coast"/>
<polyline points="213.2,120.9 214.4,121.3 215.7,121.6 216.4,122.7 217.5,123.4 217.7,124.2 218.3,125.7 217.5,126.7 216.7,127.7 216.6,128.9 215.7,129.8 216.3,131.3 215.8,132.4 215.2,133.5 214.7,134.6 214.1,135.7 212.9,136.3 212.8,137.7 211.9,138.9 211.6,140.2" class="coast"/>
<polyline points="229.1,129.2 229.0,130.4 227.8,130.9 227.4,131.9" class="coast"/>
<polyline points="223.0,137.8 222.5,139.1 220.5,139.2 219.6,137.8 220.9,136.9 222.4,136.7 223.0,137.8" class="coast"/>
<polyline points="223.8,120.5 223.8,121.7 223.2,122.7 223.0,123.8 222.0,124.5 221.2,125.3" class="coast"/>
<polyline points="216.2,114.8 217.4,115.2 217.8,116.3 218.1,117.5 218.5,118.6 219.8,119.0" class="coast"/>
<polyline points="219.7,136.4 220.0,137.6 219.5,138.9 220.4,139.9 220.6,141.1" class="coast"/>
<polyline points="221.1,130.8 220.0,131.4 219.2,131.7 218.5,131.3 218.0,130.8 218.2,130.0 219.2,129.6 220.2,129.9 221.1,130.8" class="coast"/>
<polyline points="219.1,111.9 220.1,112.8 220.3,114.1 220.9,115.2" class="coast"/>
<polyline points="222.7,142.3 222.1,144.0 219.6,143.9 218.1,142.3 219.2,140.2 222.1,140.5 222.7,142.3" class="coast"/>
<polyline points="230.4,125.6 230.7,126.5 231.1,127.5 230.3,128.7 231.1,129.6" class="coast"/>
<polyline points="224.8,123.9 226.1,123.9 227.2,124.7" class="coast"/>
<polyline points="231.5,129.2 230.2,128.9 229.5,129.9 228.5,130.2 227.8,131.2 226.7,131.4" class="coast"/>
<polyline points="216.7,130.2 216.4,131.4 216.6,132.4 217.1,133.4" class="coast"/>
<polyline points="224.3,116.2 223.3,117.0 222.0,115.9 221.1,117.0 219.9,117.0 218.8,116.8" class="coast"/>
<polyline points="223.3,129.7 222.8,131.5 221.1,130.3 220.8,129.0 222.7,128.2 223.3,129.7" class="coast"/>
<polyline points="231.7,126.2 232.2,127.2 232.5,128.3 232.7,129.4 233.8,130.2 233.6,131.5" class="coast"/>
<polyline points="224.1,121.0 223.7,121.7 222.8,121.7 221.6,121.9 221.7,121.0 221.5,120.1 222.8,119.9 223.7,120.3 224.1,121.0" class="coast"/>
<polyline points="223.3,111.7 224.1,112.3 225.3,112.4 225.7,113.6 226.9,113.7 227.4,114.7" class="coast"/>
<polyline points="218.1,140.7 218.9,141.6 220.1,141.8 220.2,143.4 221.5,143.7" class="coast"/>
<polyline points="218.9,114.8 219.9,115.4 220.2,116.5 220.5,117.6 221.6,118.1 222.0,119.2" class="coast"/>
<polyline points="233.4,122.1 232.4,122.9 231.2,123.3 230.4,124.3 229.3,124.9" class="coast"/>
<polyline points="222.0,111.7 221.1,112.2 219.9,112.1 219.2,113.0 218.1,113.0 217.5,114.1" class="coast"/>
<polyline points="229.6,122.2 228.7,123.0 227.1,122.9 227.1,121.5 228.8,121.1 229.6,122.2" class="coast"/>
<polyline points="231.0,131.5 230.4,132.8 228.7,132.7 227.6,132.0 227.9,131.1 228.6,130.0 230.2,130.3 231.0,131.5" class="coast"/>
<polyline points="228.0,139.3 227.1,140.0 226.1,140.4 224.8,139.9 225.2,138.9 226.1,138.3 227.6,138.1 228.0,139.3" class="coast"/>
<polyline points="226.5,126.9 226.4,128.5 224.3,128.7 222.4,127.8 222.3,126.0 224.2,124.9 226.3,125.5 226.5,126.9" class="coast"/>
<polyline points="225.8,132.9 226.4,133.9 227.1,134.9 228.3,135.3" class="coast"/>
<polyline points="231.3,123.2 230.5,124.0 229.8,124.8 229.8,126.0 229.0,126.8 228.2,127.6" class="coast"/>
<polyline points="221.6,116.1 221.1,117.0 220.2,117.6 218.9,118.0 218.4,118.9 218.1,120.0" class="coast"/>
<polyline points="232.9,133.2 231.9,133.8 231.0,134.2 230.2,133.8 229.7,133.2 229.7,132.1 231.0,132.0 232.1,132.4 232.9,133.2" class="coast"/>
<polyline points="221.0,123.7 221.0,125.0 221.8,125.9 222.4,126.8" class="coast"/>
<polyline points="224.1,112.7 223.7,114.0 221.9,113.7 220.6,112.7 221.6,111.3 223.7,111.4 224.1,112.7" class="coast"/>
<polyline points="222.8,124.7 222.2,125.4 220.9,125.6 219.9,124.7 220.7,123.5 222.2,123.9 222.8,124.7" class="coast"/>
<polyline points="233.0,129.0 232.4,130.0 230.9,130.8 230.2,129.5 229.2,128.2 231.1,127.7 232.7,127.8 233.0,129.0" class="coast"/>
<polyline points="217.7,119.6 217.5,120.9 218.3,121.9 218.5,123.0" class="coast"/>
<polyline points="223.1,121.5 221.8,122.8 220.1,122.1 219.9,120.7 221.9,119.8 223.1,121.5" class="coast"/>
<polyline points="223.0,115.3 224.0,116.1 225.1,116.5 226.4,116.7 227.1,117.8 228.3,118.1" class="coast"/>
<polyline points="226.0,115.2 225.5,116.3 224.1,116.6 221.7,117.0 222.4,115.2 221.9,113.5 224.1,113.5 226.3,113.5 226.0,115.2" class="coast"/>
<polyline points="219.2,140.6 220.3,140.3 221.2,141.2 222.4,140.4 223.3,141.1 224.3,141.4" class="coast"/>
<polyline points="230.7,129.9 230.4,130.7 229.4,131.0 228.7,130.4 228.3,129.9 228.6,129.3 229.4,128.4 230.1,129.3 230.7,129.9" class="coast"/>
<polyline points="222.3,120.6 221.0,120.7 220.4,122.3 219.0,122.4" class="coast"/>
<polyline points="232.2,122.6 231.4,124.0 229.2,124.1 227.8,122.6 229.4,121.4 231.3,121.2 232.2,122.6" class="coast"/>
<polyline points="219.1,137.0 218.6,138.2 217.8,139.1 216.6,139.5 215.5,140.2" class="coast"/>
<polyline points="219.6,123.3 219.0,124.4 218.4,125.6 219.1,127.0 218.5,128.2" class="coast"/>
<polyline points="219.6,119.8 220.4,120.5 221.0,121.5 222.1,121.9 222.7,122.8 223.3,123.6" class="coast"/>
<polyline points="228.8,124.4 229.2,125.7 230.5,126.3 231.1,127.5" class="coast"/>
<polyline points="228.7,134.8 227.7,135.7 227.5,136.9 227.7,138.2 227.2,139.4" class="coast"/>
<polyline points="225.8,132.6 225.0,133.6 225.2,134.6 225.8,135.6" class="coast"/>
<polyline points="230.3,123.7 228.5,124.7 225.9,124.9 226.5,122.8 228.9,121.7 230.3,123.7" class="coast"/>
<polyline points="223.6,129.9 224.9,130.0 225.1,131.7 226.4,131.9" class="coast"/>
<polyline points="223.0,114.2 222.9,115.2 221.7,116.2 220.6,115.1 219.9,114.2 219.9,112.9 221.7,113.2 223.5,112.8 223.0,114.2" class="coast"/>
<polyline points="209.4,111.1 209.7,112.4 207.9,112.7 207.0,111.6 206.8,110.6 207.9,109.7 209.5,110.0 209.4,111.1" class="coast"/>
<polyline points="209.0,111.0 207.9,111.1 207.2,112.3 206.2,112.6 205.0,112.9" class="coast"/>
<polyline points="209.5,111.4 208.8,112.0 207.9,112.1 207.4,111.7 207.4,111.1 207.9,110.4 209.1,110.5 209.5,111.4" class="coast"/>
<polyline points="217.7,108.2 217.7,109.2 218.5,110.0 218.9,110.9" class="coast"/>
<polyline points="207.8,109.9 206.6,111.5 204.1,111.0 204.7,109.2 206.4,108.9 207.8,109.9" class="coast"/>
<polyline points="220.3,109.1 219.2,109.1 218.1,108.6 217.0,109.2" class="coast"/>
<polyline points="216.2,104.3 216.4,105.4 215.9,106.4 215.7,107.5 215.5,108.5" class="coast"/>
<polyline points="215.5,106.7 215.9,108.0 215.3,109.2 215.2,110.5" class="coast"/>
<polyline points="209.8,112.9 208.7,113.8 206.6,113.9 207.2,112.3 208.9,111.6 209.8,112.9" class="coast"/>
<polyline points="217.1,105.1 215.7,105.3 214.3,105.7" class="coast"/>
<polyline points="214.2,103.7 213.8,104.7 212.5,104.9 211.1,104.8 210.9,103.7 210.9,102.5 212.5,102.3 213.4,103.1 214.2,103.7" class="coast"/>
<polyline points="211.5,113.2 210.8,114.2 209.5,113.7 209.6,112.8 210.8,112.2 211.5,113.2" class="coast"/>
<polyline points="213.9,108.8 213.3,109.2 212.8,109.8 212.2,109.3 211.8,108.8 211.8,108.0 212.8,108.1 213.6,108.2 213.9,108.8" class="coast"/>
<polyline points="211.7,106.0 211.3,106.8 210.2,106.7 209.2,106.0 210.1,105.2 211.3,105.2 211.7,106.0" class="coast"/>
<polyline points="209.4,112.5 209.6,113.7 208.9,114.7" class="coast"/>
<polyline points="210.1,105.4 209.0,105.1 207.9,105.4" class="coast"/>
<polyline points="215.3,108.4 214.3,109.3 213.1,109.3 211.4,109.1 211.9,107.8 213.1,107.3 214.3,107.5 215.3,108.4" class="coast"/>
<polyline points="206.6,105.0 205.3,105.9 204.0,105.9 202.5,105.0 203.6,103.6 205.7,103.6 206.6,105.0" class="coast"/>
<polyline points="241.8,215.7 244.0,216.8" class="coast" style="stroke-width:1.7"/>
<polyline points="233.4,231.5 235.4,232.0" class="coast" style="stroke-width:1.7"/>
<polyline points="254.0,288.8 255.6,290.6" class="coast" style="stroke-width:1.7"/>
<polyline points="256.0,101.6 257.4,103.0 257.6,106.0 256.2,107.6" class="coast" style="stroke-width:1.7"/>
<polyline points="219.5,274.0 221.8,274.5 221.0,276.8 218.3,278.0" class="coast" style="stroke-width:1.7"/>
<polyline points="227.2,278.8 234.2,278.4" class="coast" style="stroke-width:1.7"/>
<polyline points="230.5,276.8 230.8,278.6" class="coast" style="stroke-width:1.7"/>
<polyline points="232.3,277.4 233.0,278.0" class="coast" style="stroke-width:1.7"/>
<circle cx="83.6" cy="61.3" r="0.55" fill="#111"/>
<circle cx="87.4" cy="62.1" r="0.55" fill="#111"/>
<circle cx="255.3" cy="254.8" r="1.1" fill="#111"/>
<circle cx="254.6" cy="289.8" r="0.8" fill="#111"/>
</g>
<rect x="42.5" y="36.5" width="216" height="302" class="frame"/>
<line x1="64.0" y1="338.6" x2="64.0" y2="335.4" class="tick"/>
<line x1="64.0" y1="36.6" x2="64.0" y2="39.8" class="tick"/>
<line x1="107.2" y1="338.6" x2="107.2" y2="335.4" class="tick"/>
<line x1="107.2" y1="36.6" x2="107.2" y2="39.8" class="tick"/>
<line x1="150.4" y1="338.6" x2="150.4" y2="335.4" class="tick"/>
<line x1="150.4" y1="36.6" x2="150.4" y2="39.8" class="tick"/>
<line x1="193.6" y1="338.6" x2="193.6" y2="335.4" class="tick"/>
<line x1="193.6" y1="36.6" x2="193.6" y2="39.8" class="tick"/>
<line x1="236.8" y1="338.6" x2="236.8" y2="335.4" class="tick"/>
<line x1="236.8" y1="36.6" x2="236.8" y2="39.8" class="tick"/>
<line x1="42.4" y1="79.8" x2="45.6" y2="79.8" class="tick"/>
<line x1="258.4" y1="79.8" x2="255.2" y2="79.8" class="tick"/>
<line x1="42.4" y1="123.0" x2="45.6" y2="123.0" class="tick"/>
<line x1="258.4" y1="123.0" x2="255.2" y2="123.0" class="tick"/>
<line x1="42.4" y1="166.2" x2="45.6" y2="166.2" class="tick"/>
<line x1="258.4" y1="166.2" x2="255.2" y2="166.2" class="tick"/>
<line x1="42.4" y1="209.4" x2="45.6" y2="209.4" class="tick"/>
<line x1="258.4" y1="209.4" x2="255.2" y2="209.4" class="tick"/>
<line x1="42.4" y1="252.6" x2="45.6" y2="252.6" class="tick"/>
<line x1="258.4" y1="252.6" x2="255.2" y2="252.6" class="tick"/>
<line x1="42.4" y1="295.8" x2="45.6" y2="295.8" class="tick"/>
<line x1="258.4" y1="295.8" x2="255.2" y2="295.8" class="tick"/>
<circle cx="139.5" cy="84.6" r="3.4" fill="#2b379a" class="dot"/>
<circle cx="189.6" cy="141.5" r="3.4" fill="#efe320" class="dot"/>
<circle cx="199.0" cy="145.3" r="3.4" fill="#e8e132" class="dot"/>
<circle cx="192.8" cy="146.5" r="3.4" fill="#96c852" class="dot"/>
<circle cx="199.4" cy="151.2" r="3.4" fill="#96c858" class="dot"/>
<circle cx="194.5" cy="153.3" r="3.4" fill="#f06a28" class="dot"/>
<circle cx="199.8" cy="160.3" r="3.4" fill="#e6252a" class="dot"/>
<circle cx="194.8" cy="166.4" r="3.4" fill="#3060c0" class="dot"/>
<circle cx="195.2" cy="174.4" r="3.4" fill="#6fd0b0" class="dot"/>
<circle cx="194.5" cy="177.9" r="3.4" fill="#60c8c8" class="dot"/>
<circle cx="195.2" cy="182" r="3.4" fill="#42b8e2" class="dot"/>
<circle cx="193.8" cy="184.7" r="3.4" fill="#2a44a2" class="dot"/>
<circle cx="193.1" cy="188.8" r="3.4" fill="#3a78c8" class="dot"/>
<circle cx="194.5" cy="195.7" r="3.4" fill="#3a90d0" class="dot"/>
<circle cx="193.1" cy="199.8" r="3.4" fill="#3060b8" class="dot"/>
<circle cx="192.9" cy="209.3" r="3.4" fill="#50c0e8" class="dot"/>
<circle cx="191.8" cy="215.8" r="3.4" fill="#48b8e0" class="dot"/>
<circle cx="188.8" cy="220.6" r="3.4" fill="#48b8e0" class="dot"/>
<circle cx="186.8" cy="223.4" r="3.4" fill="#60c8e0" class="dot"/>
<circle cx="185.1" cy="227.9" r="3.4" fill="#efe620" class="dot"/>
<circle cx="181.5" cy="234.3" r="3.4" fill="#98c860" class="dot"/>
<circle cx="191" cy="276.5" r="3.4" fill="#50c0e0" class="dot"/>
<circle cx="189.3" cy="279.8" r="3.4" fill="#48b8e0" class="dot"/>
<circle cx="186" cy="282.5" r="3.4" fill="#80d070" class="dot"/>
<rect x="47.4" y="143.2" width="72.2" height="189.6" class="legend"/>
<rect x="69.3" y="179.3" width="12" height="145.3" fill="url(#cb)" stroke="#5a5a5a" stroke-width="0.5"/>
<line x1="81.3" y1="252" x2="79.3" y2="252" stroke="#555" stroke-width="0.6"/>
<text transform="translate(84.80,157.20) scale(1.055,1)" class="t11" text-anchor="middle">Subsidence</text>
<text transform="translate(75.30,173.70) scale(1.055,1)" class="t11" text-anchor="middle">m</text>
<text transform="translate(88.60,184.40) scale(1.055,1)" class="t11">2.0</text>
<text transform="translate(88.60,255.90) scale(1.055,1)" class="t11">1.0</text>
<text transform="translate(88.60,328.20) scale(1.055,1)" class="t11">0.0</text>
<text transform="translate(36.30,40.60) scale(1.055,1)" class="t11" text-anchor="end">52<tspan font-size="8.5" dy="-3.3">o</tspan><tspan dy="3.3">N</tspan></text>
<text transform="translate(36.30,83.80) scale(1.055,1)" class="t11" text-anchor="end">50<tspan font-size="8.5" dy="-3.3">o</tspan><tspan dy="3.3">N</tspan></text>
<text transform="translate(36.30,127.00) scale(1.055,1)" class="t11" text-anchor="end">48<tspan font-size="8.5" dy="-3.3">o</tspan><tspan dy="3.3">N</tspan></text>
<text transform="translate(36.30,170.20) scale(1.055,1)" class="t11" text-anchor="end">46<tspan font-size="8.5" dy="-3.3">o</tspan><tspan dy="3.3">N</tspan></text>
<text transform="translate(36.30,213.40) scale(1.055,1)" class="t11" text-anchor="end">44<tspan font-size="8.5" dy="-3.3">o</tspan><tspan dy="3.3">N</tspan></text>
<text transform="translate(36.30,256.60) scale(1.055,1)" class="t11" text-anchor="end">42<tspan font-size="8.5" dy="-3.3">o</tspan><tspan dy="3.3">N</tspan></text>
<text transform="translate(36.30,299.80) scale(1.055,1)" class="t11" text-anchor="end">40<tspan font-size="8.5" dy="-3.3">o</tspan><tspan dy="3.3">N</tspan></text>
<text transform="translate(36.30,343.00) scale(1.055,1)" class="t11" text-anchor="end">38<tspan font-size="8.5" dy="-3.3">o</tspan><tspan dy="3.3">N</tspan></text>
<text transform="translate(64.80,355.90) scale(1.04,1)" class="t11" text-anchor="middle">130<tspan font-size="8.5" dy="-3.3">o</tspan><tspan dy="3.3">W</tspan></text>
<text transform="translate(108.00,355.90) scale(1.04,1)" class="t11" text-anchor="middle">128<tspan font-size="8.5" dy="-3.3">o</tspan><tspan dy="3.3">W</tspan></text>
<text transform="translate(151.20,355.90) scale(1.04,1)" class="t11" text-anchor="middle">126<tspan font-size="8.5" dy="-3.3">o</tspan><tspan dy="3.3">W</tspan></text>
<text transform="translate(194.40,355.90) scale(1.04,1)" class="t11" text-anchor="middle">124<tspan font-size="8.5" dy="-3.3">o</tspan><tspan dy="3.3">W</tspan></text>
<text transform="translate(237.60,355.90) scale(1.04,1)" class="t11" text-anchor="middle">122<tspan font-size="8.5" dy="-3.3">o</tspan><tspan dy="3.3">W</tspan></text>
<text transform="translate(8.60,20.80) scale(1.0,1)" class="lbl">(b)</text>
<text transform="translate(68.40,25.80) scale(1.076,1)" class="t13">Pre-1700 Cascadia events</text>
</g>
</svg>
</body></html>
